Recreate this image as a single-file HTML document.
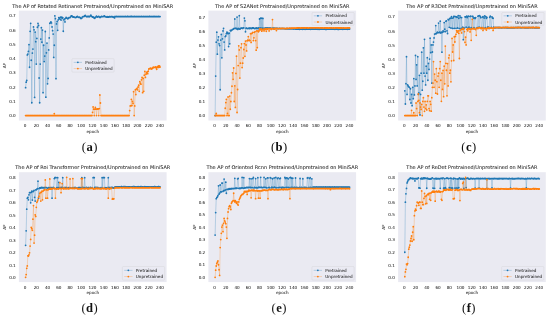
<!DOCTYPE html>
<html lang="en">
<head>
<meta charset="utf-8">
<title>AP of pretrained / unpretrained detectors on MiniSAR</title>
<style>
html,body{margin:0;padding:0;background:#fff;}
body{width:550px;height:317px;overflow:hidden;}
svg{display:block;}
svg text{font-family:"DejaVu Sans","Liberation Sans",sans-serif;fill:#2b2b2b;stroke:#2b2b2b;stroke-width:0.06px;}
svg text.cap{font-family:"Liberation Serif","DejaVu Serif",serif;fill:#111;stroke:none;letter-spacing:0.45px;}
</style>
</head>
<body>
<svg width="550" height="317" viewBox="0 0 550 317">
<g>
<rect width="550" height="317" fill="#ffffff"/>
<g>
<rect x="18.9" y="10.6" width="147.7" height="109.9" fill="#eaeaf2"/>
<text x="92.75" y="7.6" font-size="4.96" text-anchor="middle">The AP of Rotated Retinanet Pretrained/Unpretrained on MiniSAR</text>
<text x="15.7" y="117.35" font-size="4.14" text-anchor="end">0.0</text>
<text x="15.7" y="103.05" font-size="4.14" text-anchor="end">0.1</text>
<text x="15.7" y="88.75" font-size="4.14" text-anchor="end">0.2</text>
<text x="15.7" y="74.45" font-size="4.14" text-anchor="end">0.3</text>
<text x="15.7" y="60.15" font-size="4.14" text-anchor="end">0.4</text>
<text x="15.7" y="45.85" font-size="4.14" text-anchor="end">0.5</text>
<text x="15.7" y="31.55" font-size="4.14" text-anchor="end">0.6</text>
<text x="15.7" y="17.25" font-size="4.14" text-anchor="end">0.7</text>
<text x="25.05" y="126.9" font-size="4.14" text-anchor="middle">0</text>
<text x="36.3" y="126.9" font-size="4.14" text-anchor="middle">20</text>
<text x="47.55" y="126.9" font-size="4.14" text-anchor="middle">40</text>
<text x="58.8" y="126.9" font-size="4.14" text-anchor="middle">60</text>
<text x="70.05" y="126.9" font-size="4.14" text-anchor="middle">80</text>
<text x="81.3" y="126.9" font-size="4.14" text-anchor="middle">100</text>
<text x="92.55" y="126.9" font-size="4.14" text-anchor="middle">120</text>
<text x="103.8" y="126.9" font-size="4.14" text-anchor="middle">140</text>
<text x="115.05" y="126.9" font-size="4.14" text-anchor="middle">160</text>
<text x="126.3" y="126.9" font-size="4.14" text-anchor="middle">180</text>
<text x="137.55" y="126.9" font-size="4.14" text-anchor="middle">200</text>
<text x="148.8" y="126.9" font-size="4.14" text-anchor="middle">220</text>
<text x="160.05" y="126.9" font-size="4.14" text-anchor="middle">240</text>
<text x="92.75" y="132.55" font-size="4.14" text-anchor="middle">epoch</text>
<text transform="translate(6 65.55) rotate(-90)" font-size="4.14" text-anchor="middle">AP</text>
<path d="M25.61 87.71 L26.17 82.14 L26.74 80.42 L27.3 54.97 L27.86 54.11 L28.42 51.39 L28.99 44.53 L29.55 67.27 L30.11 31.37 L30.67 23.36 L31.24 60.26 L31.8 102.73 L32.36 53.11 L32.92 49.1 L33.49 26.94 L34.05 29.8 L34.61 97.44 L35.17 32.09 L35.74 41.67 L36.3 64.12 L36.86 38.38 L37.42 27.23 L37.99 23.36 L38.55 25.51 L39.11 77.99 L39.67 102.73 L40.24 64.12 L40.8 39.09 L41.36 27.66 L41.92 42.24 L42.49 30.09 L43.05 92.72 L43.61 45.24 L44.17 61.55 L44.74 56.11 L45.3 31.52 L45.86 97.15 L46.42 52.82 L46.99 43.1 L47.55 83.85 L48.11 78.42 L48.67 49.96 L49.24 37.95 L49.8 23.36 L50.36 22.65 L50.92 21.79 L51.49 22.94 L52.05 26.94 L52.61 30.66 L53.17 34.09 L53.74 57.4 L54.3 45.24 L54.86 15.79 L55.42 18.65 L55.99 78.71 L56.55 23.94 L57.11 21.51 L57.67 30.37 L58.24 19.79 L58.8 17.64 L59.36 18.36 L59.92 19.07 L60.49 17.22 L61.05 20.08 L61.61 17.07 L62.17 18.36 L62.74 17.64 L63.3 31.23 L63.86 19.79 L64.42 19.07 L64.99 21.93 L65.55 18.36 L66.11 17.43 L66.67 17.73 L67.24 18.29 L67.8 18.86 L68.36 18.37 L68.92 17.68 L69.49 17.71 L70.05 17.5 L70.61 16.97 L71.17 16.01 L71.74 15.95 L72.3 16.22 L72.86 17.1 L73.42 17.01 L73.99 16.93 L74.55 17.35 L75.11 17.29 L75.67 17.62 L76.24 17.37 L76.8 16.59 L77.36 16.52 L77.92 16.98 L78.49 17.16 L79.05 17.43 L79.61 17.24 L80.17 17.58 L80.74 18.43 L81.3 18.47 L81.86 17.9 L82.42 16.79 L82.99 16.6 L83.55 16.57 L84.11 16.44 L84.67 15.75 L85.24 15.52 L85.8 16.07 L86.36 16.47 L86.92 16.79 L87.49 16.54 L88.05 16.27 L88.61 16.61 L89.17 16.84 L89.74 16.43 L90.3 15.84 L90.86 15.23 L91.42 16.05 L91.99 16.62 L92.55 17.22 L93.11 16.85 L93.67 17.15 L94.24 18.18 L94.8 18.26 L95.36 17.34 L95.92 16.81 L96.49 16.21 L97.05 16.74 L97.61 17.06 L98.17 16.53 L98.74 16.28 L99.3 16.85 L99.86 17.43 L100.42 17.39 L100.99 16.63 L101.55 16.3 L102.11 16.55 L102.67 16.54 L103.24 16.51 L103.8 16.27 L104.36 15.81 L104.92 16.51 L105.49 16.72 L106.05 16.95 L106.61 17.02 L107.17 16.69 L107.74 17.14 L108.3 16.9 L108.86 17.05 L109.42 16.68 L109.99 16.74 L110.55 16.84 L111.11 16.58 L111.67 16.69 L112.24 16.94 L112.8 16.66 L113.36 17.18 L113.92 17.09 L114.49 17.93 L115.05 16.51 L115.61 16.55 L116.17 16.64 L116.74 16.49 L117.3 16.62 L117.86 16.61 L118.42 16.53 L118.99 16.6 L119.55 16.61 L120.11 16.65 L120.67 16.64 L121.24 16.56 L121.8 16.62 L122.36 16.56 L122.92 16.59 L123.49 16.58 L124.05 16.49 L124.61 16.58 L125.17 16.56 L125.74 16.51 L126.3 16.63 L126.86 16.63 L127.42 16.5 L127.99 16.52 L128.55 16.62 L129.11 16.63 L129.68 16.53 L130.24 16.5 L130.8 16.62 L131.36 16.5 L131.93 16.51 L132.49 16.55 L133.05 16.59 L133.61 16.64 L134.18 16.65 L134.74 16.49 L135.3 16.62 L135.86 16.54 L136.43 16.61 L136.99 16.52 L137.55 16.56 L138.11 16.61 L138.68 16.63 L139.24 16.53 L139.8 16.65 L140.36 16.62 L140.93 16.56 L141.49 16.51 L142.05 16.55 L142.61 16.61 L143.18 16.5 L143.74 16.62 L144.3 16.66 L144.86 16.61 L145.43 16.58 L145.99 16.65 L146.55 16.63 L147.11 16.6 L147.68 16.56 L148.24 16.64 L148.8 16.6 L149.36 16.51 L149.93 16.49 L150.49 16.55 L151.05 16.54 L151.61 16.56 L152.18 16.63 L152.74 16.65 L153.3 16.66 L153.86 16.5 L154.43 16.54 L154.99 16.49 L155.55 16.65 L156.11 16.55 L156.68 16.58 L157.24 16.53 L157.8 16.6 L158.36 16.49 L158.93 16.65 L159.49 16.56 L160.05 16.53" fill="none" stroke="#1f77b4" stroke-width="0.27" stroke-linejoin="round"/>
<path d="M25.61 87.71h0M26.17 82.14h0M26.74 80.42h0M27.3 54.97h0M27.86 54.11h0M28.42 51.39h0M28.99 44.53h0M29.55 67.27h0M30.11 31.37h0M30.67 23.36h0M31.24 60.26h0M31.8 102.73h0M32.36 53.11h0M32.92 49.1h0M33.49 26.94h0M34.05 29.8h0M34.61 97.44h0M35.17 32.09h0M35.74 41.67h0M36.3 64.12h0M36.86 38.38h0M37.42 27.23h0M37.99 23.36h0M38.55 25.51h0M39.11 77.99h0M39.67 102.73h0M40.24 64.12h0M40.8 39.09h0M41.36 27.66h0M41.92 42.24h0M42.49 30.09h0M43.05 92.72h0M43.61 45.24h0M44.17 61.55h0M44.74 56.11h0M45.3 31.52h0M45.86 97.15h0M46.42 52.82h0M46.99 43.1h0M47.55 83.85h0M48.11 78.42h0M48.67 49.96h0M49.24 37.95h0M49.8 23.36h0M50.36 22.65h0M50.92 21.79h0M51.49 22.94h0M52.05 26.94h0M52.61 30.66h0M53.17 34.09h0M53.74 57.4h0M54.3 45.24h0M54.86 15.79h0M55.42 18.65h0M55.99 78.71h0M56.55 23.94h0M57.11 21.51h0M57.67 30.37h0M58.24 19.79h0M58.8 17.64h0M59.36 18.36h0M59.92 19.07h0M60.49 17.22h0M61.05 20.08h0M61.61 17.07h0M62.17 18.36h0M62.74 17.64h0M63.3 31.23h0M63.86 19.79h0M64.42 19.07h0M64.99 21.93h0M65.55 18.36h0M66.11 17.43h0M66.67 17.73h0M67.24 18.29h0M67.8 18.86h0M68.36 18.37h0M68.92 17.68h0M69.49 17.71h0M70.05 17.5h0M70.61 16.97h0M71.17 16.01h0M71.74 15.95h0M72.3 16.22h0M72.86 17.1h0M73.42 17.01h0M73.99 16.93h0M74.55 17.35h0M75.11 17.29h0M75.67 17.62h0M76.24 17.37h0M76.8 16.59h0M77.36 16.52h0M77.92 16.98h0M78.49 17.16h0M79.05 17.43h0M79.61 17.24h0M80.17 17.58h0M80.74 18.43h0M81.3 18.47h0M81.86 17.9h0M82.42 16.79h0M82.99 16.6h0M83.55 16.57h0M84.11 16.44h0M84.67 15.75h0M85.24 15.52h0M85.8 16.07h0M86.36 16.47h0M86.92 16.79h0M87.49 16.54h0M88.05 16.27h0M88.61 16.61h0M89.17 16.84h0M89.74 16.43h0M90.3 15.84h0M90.86 15.23h0M91.42 16.05h0M91.99 16.62h0M92.55 17.22h0M93.11 16.85h0M93.67 17.15h0M94.24 18.18h0M94.8 18.26h0M95.36 17.34h0M95.92 16.81h0M96.49 16.21h0M97.05 16.74h0M97.61 17.06h0M98.17 16.53h0M98.74 16.28h0M99.3 16.85h0M99.86 17.43h0M100.42 17.39h0M100.99 16.63h0M101.55 16.3h0M102.11 16.55h0M102.67 16.54h0M103.24 16.51h0M103.8 16.27h0M104.36 15.81h0M104.92 16.51h0M105.49 16.72h0M106.05 16.95h0M106.61 17.02h0M107.17 16.69h0M107.74 17.14h0M108.3 16.9h0M108.86 17.05h0M109.42 16.68h0M109.99 16.74h0M110.55 16.84h0M111.11 16.58h0M111.67 16.69h0M112.24 16.94h0M112.8 16.66h0M113.36 17.18h0M113.92 17.09h0M114.49 17.93h0M115.05 16.51h0M115.61 16.55h0M116.17 16.64h0M116.74 16.49h0M117.3 16.62h0M117.86 16.61h0M118.42 16.53h0M118.99 16.6h0M119.55 16.61h0M120.11 16.65h0M120.67 16.64h0M121.24 16.56h0M121.8 16.62h0M122.36 16.56h0M122.92 16.59h0M123.49 16.58h0M124.05 16.49h0M124.61 16.58h0M125.17 16.56h0M125.74 16.51h0M126.3 16.63h0M126.86 16.63h0M127.42 16.5h0M127.99 16.52h0M128.55 16.62h0M129.11 16.63h0M129.68 16.53h0M130.24 16.5h0M130.8 16.62h0M131.36 16.5h0M131.93 16.51h0M132.49 16.55h0M133.05 16.59h0M133.61 16.64h0M134.18 16.65h0M134.74 16.49h0M135.3 16.62h0M135.86 16.54h0M136.43 16.61h0M136.99 16.52h0M137.55 16.56h0M138.11 16.61h0M138.68 16.63h0M139.24 16.53h0M139.8 16.65h0M140.36 16.62h0M140.93 16.56h0M141.49 16.51h0M142.05 16.55h0M142.61 16.61h0M143.18 16.5h0M143.74 16.62h0M144.3 16.66h0M144.86 16.61h0M145.43 16.58h0M145.99 16.65h0M146.55 16.63h0M147.11 16.6h0M147.68 16.56h0M148.24 16.64h0M148.8 16.6h0M149.36 16.51h0M149.93 16.49h0M150.49 16.55h0M151.05 16.54h0M151.61 16.56h0M152.18 16.63h0M152.74 16.65h0M153.3 16.66h0M153.86 16.5h0M154.43 16.54h0M154.99 16.49h0M155.55 16.65h0M156.11 16.55h0M156.68 16.58h0M157.24 16.53h0M157.8 16.6h0M158.36 16.49h0M158.93 16.65h0M159.49 16.56h0M160.05 16.53h0" fill="none" stroke="#1f77b4" stroke-width="1.8" stroke-linecap="round"/>
<path d="M25.61 115.6 L26.17 115.6 L26.74 115.6 L27.3 115.6 L27.86 115.6 L28.42 115.6 L28.99 115.6 L29.55 115.6 L30.11 115.6 L30.67 115.6 L31.24 115.6 L31.8 115.6 L32.36 115.6 L32.92 115.6 L33.49 115.6 L34.05 115.6 L34.61 115.6 L35.17 115.6 L35.74 115.6 L36.3 115.6 L36.86 115.6 L37.42 115.6 L37.99 115.6 L38.55 115.6 L39.11 115.6 L39.67 115.6 L40.24 115.6 L40.8 115.6 L41.36 115.6 L41.92 115.6 L42.49 115.6 L43.05 115.6 L43.61 115.6 L44.17 115.6 L44.74 115.6 L45.3 115.6 L45.86 115.6 L46.42 115.6 L46.99 115.6 L47.55 115.6 L48.11 115.6 L48.67 115.6 L49.24 115.6 L49.8 115.6 L50.36 115.6 L50.92 115.6 L51.49 115.6 L52.05 115.6 L52.61 115.6 L53.17 115.6 L53.74 115.6 L54.3 113.6 L54.86 115.6 L55.42 115.6 L55.99 115.6 L56.55 115.6 L57.11 115.6 L57.67 115.6 L58.24 115.6 L58.8 115.6 L59.36 115.6 L59.92 115.6 L60.49 115.6 L61.05 115.6 L61.61 115.6 L62.17 115.6 L62.74 115.6 L63.3 115.6 L63.86 115.6 L64.42 115.6 L64.99 115.6 L65.55 115.6 L66.11 115.6 L66.67 115.6 L67.24 115.6 L67.8 115.6 L68.36 115.6 L68.92 115.6 L69.49 115.6 L70.05 115.6 L70.61 115.6 L71.17 115.6 L71.74 115.6 L72.3 115.6 L72.86 115.6 L73.42 115.6 L73.99 115.6 L74.55 115.6 L75.11 115.6 L75.67 115.6 L76.24 115.6 L76.8 115.6 L77.36 115.6 L77.92 115.6 L78.49 115.6 L79.05 115.6 L79.61 115.6 L80.17 115.6 L80.74 115.6 L81.3 115.6 L81.86 115.6 L82.42 115.6 L82.99 115.6 L83.55 115.6 L84.11 115.6 L84.67 115.6 L85.24 115.6 L85.8 115.6 L86.36 115.6 L86.92 115.6 L87.49 115.6 L88.05 115.6 L88.61 115.6 L89.17 115.6 L89.74 115.6 L90.3 115.6 L90.86 115.6 L91.42 115.6 L91.99 115.6 L92.55 112.31 L93.11 106.88 L93.67 109.16 L94.24 115.6 L94.8 109.16 L95.36 107.31 L95.92 109.02 L96.49 115.6 L97.05 109.02 L97.61 109.02 L98.17 109.02 L98.74 115.6 L99.3 108.59 L99.86 95.01 L100.42 103.02 L100.99 115.6 L101.55 115.6 L102.11 115.6 L102.67 115.6 L103.24 115.6 L103.8 115.6 L104.36 115.6 L104.92 115.6 L105.49 115.6 L106.05 115.6 L106.61 115.6 L107.17 115.6 L107.74 115.6 L108.3 115.6 L108.86 115.6 L109.42 115.6 L109.99 115.6 L110.55 115.6 L111.11 115.6 L111.67 115.6 L112.24 115.6 L112.8 115.6 L113.36 115.6 L113.92 115.6 L114.49 115.6 L115.05 115.6 L115.61 115.6 L116.17 115.6 L116.74 115.6 L117.3 115.6 L117.86 115.6 L118.42 115.6 L118.99 115.6 L119.55 115.6 L120.11 115.6 L120.67 115.6 L121.24 115.6 L121.8 115.6 L122.36 115.6 L122.92 115.6 L123.49 115.6 L124.05 115.6 L124.61 115.6 L125.17 115.6 L125.74 115.6 L126.3 115.6 L126.86 115.6 L127.42 115.6 L127.99 115.6 L128.55 115.6 L129.11 115.6 L129.68 110.59 L130.24 105.88 L130.8 105.88 L131.36 99.3 L131.93 105.59 L132.49 101.3 L133.05 103.44 L133.61 91.72 L134.18 115.6 L134.74 105.88 L135.3 89.86 L135.86 94.58 L136.43 88.86 L136.99 88.43 L137.55 89.86 L138.11 87 L138.68 85.14 L139.24 91.29 L139.8 81.71 L140.36 83.42 L140.93 84.14 L141.49 79.85 L142.05 77.42 L142.61 92.72 L143.18 78.42 L143.74 91.29 L144.3 75.13 L144.86 71.41 L145.43 77.42 L145.99 74.13 L146.55 72.7 L147.11 71.84 L147.68 73.7 L148.24 71.27 L148.8 68.98 L149.36 68.74 L149.93 68.3 L150.49 68.15 L151.05 68.92 L151.61 69.02 L152.18 68.27 L152.74 68.31 L153.3 67.26 L153.86 67.34 L154.43 67.36 L154.99 67.31 L155.55 67 L156.11 67.76 L156.68 69.27 L157.24 67 L157.8 67.35 L158.36 65.94 L158.93 67.27 L159.49 65.83 L160.05 66.98" fill="none" stroke="#ff7f0e" stroke-width="0.27" stroke-linejoin="round"/>
<path d="M25.61 115.6h0M26.17 115.6h0M26.74 115.6h0M27.3 115.6h0M27.86 115.6h0M28.42 115.6h0M28.99 115.6h0M29.55 115.6h0M30.11 115.6h0M30.67 115.6h0M31.24 115.6h0M31.8 115.6h0M32.36 115.6h0M32.92 115.6h0M33.49 115.6h0M34.05 115.6h0M34.61 115.6h0M35.17 115.6h0M35.74 115.6h0M36.3 115.6h0M36.86 115.6h0M37.42 115.6h0M37.99 115.6h0M38.55 115.6h0M39.11 115.6h0M39.67 115.6h0M40.24 115.6h0M40.8 115.6h0M41.36 115.6h0M41.92 115.6h0M42.49 115.6h0M43.05 115.6h0M43.61 115.6h0M44.17 115.6h0M44.74 115.6h0M45.3 115.6h0M45.86 115.6h0M46.42 115.6h0M46.99 115.6h0M47.55 115.6h0M48.11 115.6h0M48.67 115.6h0M49.24 115.6h0M49.8 115.6h0M50.36 115.6h0M50.92 115.6h0M51.49 115.6h0M52.05 115.6h0M52.61 115.6h0M53.17 115.6h0M53.74 115.6h0M54.3 113.6h0M54.86 115.6h0M55.42 115.6h0M55.99 115.6h0M56.55 115.6h0M57.11 115.6h0M57.67 115.6h0M58.24 115.6h0M58.8 115.6h0M59.36 115.6h0M59.92 115.6h0M60.49 115.6h0M61.05 115.6h0M61.61 115.6h0M62.17 115.6h0M62.74 115.6h0M63.3 115.6h0M63.86 115.6h0M64.42 115.6h0M64.99 115.6h0M65.55 115.6h0M66.11 115.6h0M66.67 115.6h0M67.24 115.6h0M67.8 115.6h0M68.36 115.6h0M68.92 115.6h0M69.49 115.6h0M70.05 115.6h0M70.61 115.6h0M71.17 115.6h0M71.74 115.6h0M72.3 115.6h0M72.86 115.6h0M73.42 115.6h0M73.99 115.6h0M74.55 115.6h0M75.11 115.6h0M75.67 115.6h0M76.24 115.6h0M76.8 115.6h0M77.36 115.6h0M77.92 115.6h0M78.49 115.6h0M79.05 115.6h0M79.61 115.6h0M80.17 115.6h0M80.74 115.6h0M81.3 115.6h0M81.86 115.6h0M82.42 115.6h0M82.99 115.6h0M83.55 115.6h0M84.11 115.6h0M84.67 115.6h0M85.24 115.6h0M85.8 115.6h0M86.36 115.6h0M86.92 115.6h0M87.49 115.6h0M88.05 115.6h0M88.61 115.6h0M89.17 115.6h0M89.74 115.6h0M90.3 115.6h0M90.86 115.6h0M91.42 115.6h0M91.99 115.6h0M92.55 112.31h0M93.11 106.88h0M93.67 109.16h0M94.24 115.6h0M94.8 109.16h0M95.36 107.31h0M95.92 109.02h0M96.49 115.6h0M97.05 109.02h0M97.61 109.02h0M98.17 109.02h0M98.74 115.6h0M99.3 108.59h0M99.86 95.01h0M100.42 103.02h0M100.99 115.6h0M101.55 115.6h0M102.11 115.6h0M102.67 115.6h0M103.24 115.6h0M103.8 115.6h0M104.36 115.6h0M104.92 115.6h0M105.49 115.6h0M106.05 115.6h0M106.61 115.6h0M107.17 115.6h0M107.74 115.6h0M108.3 115.6h0M108.86 115.6h0M109.42 115.6h0M109.99 115.6h0M110.55 115.6h0M111.11 115.6h0M111.67 115.6h0M112.24 115.6h0M112.8 115.6h0M113.36 115.6h0M113.92 115.6h0M114.49 115.6h0M115.05 115.6h0M115.61 115.6h0M116.17 115.6h0M116.74 115.6h0M117.3 115.6h0M117.86 115.6h0M118.42 115.6h0M118.99 115.6h0M119.55 115.6h0M120.11 115.6h0M120.67 115.6h0M121.24 115.6h0M121.8 115.6h0M122.36 115.6h0M122.92 115.6h0M123.49 115.6h0M124.05 115.6h0M124.61 115.6h0M125.17 115.6h0M125.74 115.6h0M126.3 115.6h0M126.86 115.6h0M127.42 115.6h0M127.99 115.6h0M128.55 115.6h0M129.11 115.6h0M129.68 110.59h0M130.24 105.88h0M130.8 105.88h0M131.36 99.3h0M131.93 105.59h0M132.49 101.3h0M133.05 103.44h0M133.61 91.72h0M134.18 115.6h0M134.74 105.88h0M135.3 89.86h0M135.86 94.58h0M136.43 88.86h0M136.99 88.43h0M137.55 89.86h0M138.11 87h0M138.68 85.14h0M139.24 91.29h0M139.8 81.71h0M140.36 83.42h0M140.93 84.14h0M141.49 79.85h0M142.05 77.42h0M142.61 92.72h0M143.18 78.42h0M143.74 91.29h0M144.3 75.13h0M144.86 71.41h0M145.43 77.42h0M145.99 74.13h0M146.55 72.7h0M147.11 71.84h0M147.68 73.7h0M148.24 71.27h0M148.8 68.98h0M149.36 68.74h0M149.93 68.3h0M150.49 68.15h0M151.05 68.92h0M151.61 69.02h0M152.18 68.27h0M152.74 68.31h0M153.3 67.26h0M153.86 67.34h0M154.43 67.36h0M154.99 67.31h0M155.55 67h0M156.11 67.76h0M156.68 69.27h0M157.24 67h0M157.8 67.35h0M158.36 65.94h0M158.93 67.27h0M159.49 65.83h0M160.05 66.98h0" fill="none" stroke="#ff7f0e" stroke-width="1.8" stroke-linecap="round"/>
<rect x="71.9" y="58.6" width="42.2" height="13.5" rx="0.9" fill="#eaeaf2" fill-opacity="0.8" stroke="#cccccc" stroke-width="0.3"/>
<path d="M73.7 62.35h8.3" stroke="#1f77b4" stroke-width="0.27" fill="none"/>
<circle cx="77.85" cy="62.35" r="0.9" fill="#1f77b4"/>
<text x="85.35" y="63.85" font-size="4.14">Pretrained</text>
<path d="M73.7 68.55h8.3" stroke="#ff7f0e" stroke-width="0.27" fill="none"/>
<circle cx="77.85" cy="68.55" r="0.9" fill="#ff7f0e"/>
<text x="85.35" y="70.05" font-size="4.14">Unpretrained</text>
</g>
<text class="cap" x="89.8" y="150.5" font-size="12.6" text-anchor="middle">(<tspan font-weight="bold">a</tspan>)</text>
<g>
<rect x="208.4" y="10.6" width="147.7" height="109.9" fill="#eaeaf2"/>
<text x="282.25" y="7.6" font-size="4.96" text-anchor="middle">The AP of S2ANet Pretrained/Unpretrained on MiniSAR</text>
<text x="205.2" y="117.35" font-size="4.14" text-anchor="end">0.0</text>
<text x="205.2" y="103.23" font-size="4.14" text-anchor="end">0.1</text>
<text x="205.2" y="89.11" font-size="4.14" text-anchor="end">0.2</text>
<text x="205.2" y="74.99" font-size="4.14" text-anchor="end">0.3</text>
<text x="205.2" y="60.87" font-size="4.14" text-anchor="end">0.4</text>
<text x="205.2" y="46.75" font-size="4.14" text-anchor="end">0.5</text>
<text x="205.2" y="32.63" font-size="4.14" text-anchor="end">0.6</text>
<text x="205.2" y="18.51" font-size="4.14" text-anchor="end">0.7</text>
<text x="214.55" y="126.9" font-size="4.14" text-anchor="middle">0</text>
<text x="225.8" y="126.9" font-size="4.14" text-anchor="middle">20</text>
<text x="237.05" y="126.9" font-size="4.14" text-anchor="middle">40</text>
<text x="248.3" y="126.9" font-size="4.14" text-anchor="middle">60</text>
<text x="259.55" y="126.9" font-size="4.14" text-anchor="middle">80</text>
<text x="270.8" y="126.9" font-size="4.14" text-anchor="middle">100</text>
<text x="282.05" y="126.9" font-size="4.14" text-anchor="middle">120</text>
<text x="293.3" y="126.9" font-size="4.14" text-anchor="middle">140</text>
<text x="304.55" y="126.9" font-size="4.14" text-anchor="middle">160</text>
<text x="315.8" y="126.9" font-size="4.14" text-anchor="middle">180</text>
<text x="327.05" y="126.9" font-size="4.14" text-anchor="middle">200</text>
<text x="338.3" y="126.9" font-size="4.14" text-anchor="middle">220</text>
<text x="349.55" y="126.9" font-size="4.14" text-anchor="middle">240</text>
<text x="282.25" y="132.55" font-size="4.14" text-anchor="middle">epoch</text>
<text transform="translate(195.5 65.55) rotate(-90)" font-size="4.14" text-anchor="middle">AP</text>
<path d="M215.11 115.6 L215.68 76.06 L216.24 42.18 L216.8 32.15 L217.36 54.18 L217.93 40.06 L218.49 36.81 L219.05 43.87 L219.61 45.56 L220.18 89.76 L220.74 40.06 L221.3 34.41 L221.86 57.85 L222.43 38.79 L222.99 30.88 L223.55 28.34 L224.11 42.03 L224.68 49.94 L225.24 36.53 L225.8 35.96 L226.36 33.7 L226.93 32.15 L227.49 32.29 L228.05 33.7 L228.61 46.55 L229.18 33.14 L229.74 43.87 L230.3 30.32 L230.86 30.88 L231.43 30.17 L231.99 29.89 L232.55 29.47 L233.11 29.19 L233.68 28.76 L234.24 28.34 L234.8 19.02 L235.36 28.34 L235.93 28.06 L236.49 28.76 L237.05 17.04 L237.61 29.47 L238.18 28.34 L238.74 28.76 L239.3 15.63 L239.86 29.19 L240.43 28.48 L240.99 28.04 L241.55 28.08 L242.11 28.21 L242.68 28.44 L243.24 27.95 L243.8 27.94 L244.36 18.03 L244.93 20.85 L245.49 31.73 L246.05 28.19 L246.61 28.19 L247.18 28.42 L247.74 28.62 L248.3 28.31 L248.86 28.12 L249.43 28.56 L249.99 27.95 L250.55 28.42 L251.11 28.42 L251.68 28.58 L252.24 27.78 L252.8 27.99 L253.36 27.88 L253.93 28.1 L254.49 28.59 L255.05 28.34 L255.61 28.2 L256.18 28.52 L256.74 27.81 L257.3 28.31 L257.86 28.49 L258.43 27.93 L258.99 28.52 L259.55 19.02 L260.11 27.83 L260.68 18.17 L261.24 28.24 L261.8 18.03 L262.36 28.15 L262.93 18.45 L263.49 28.33 L264.05 28.21 L264.61 28.46 L265.18 28.21 L265.74 27.95 L266.3 28.18 L266.86 28.01 L267.43 28.23 L267.99 27.99 L268.55 28.03 L269.11 28.09 L269.68 28.11 L270.24 28.19 L270.8 28.15 L271.36 28.38 L271.93 28.28 L272.49 28.17 L273.05 28.4 L273.61 28.18 L274.18 28.21 L274.74 28.39 L275.3 28.42 L275.86 28.41 L276.43 28.45 L276.99 28.26 L277.55 28.48 L278.11 28.62 L278.68 28.62 L279.24 28.42 L279.8 28.35 L280.36 28.53 L280.93 28.55 L281.49 28.55 L282.05 28.5 L282.61 28.7 L283.18 28.58 L283.74 28.62 L284.3 28.61 L284.86 28.78 L285.43 28.8 L285.99 28.76 L286.55 28.58 L287.11 28.8 L287.68 28.73 L288.24 28.85 L288.8 28.93 L289.36 28.96 L289.93 28.73 L290.49 28.76 L291.05 28.91 L291.61 28.82 L292.18 28.84 L292.74 28.79 L293.3 28.78 L293.86 28.99 L294.43 28.81 L294.99 28.84 L295.55 28.98 L296.11 28.9 L296.68 29.05 L297.24 29.1 L297.8 29.17 L298.36 28.97 L298.93 29.21 L299.49 29.24 L300.05 29.03 L300.61 29.04 L301.18 29.12 L301.74 29.02 L302.3 29.24 L302.86 29.18 L303.43 29.17 L303.99 29.14 L304.55 29.21 L305.11 29.24 L305.68 29.16 L306.24 29 L306.8 28.98 L307.36 29.05 L307.93 29.12 L308.49 29.18 L309.05 28.99 L309.61 29.11 L310.18 29.05 L310.74 29.25 L311.3 29.2 L311.86 29.02 L312.43 29.03 L312.99 29.01 L313.55 29.09 L314.11 29.14 L314.68 29.09 L315.24 29.02 L315.8 29.17 L316.36 29.11 L316.93 29.18 L317.49 29.04 L318.05 29.25 L318.61 29.06 L319.18 28.99 L319.74 29.25 L320.3 29.09 L320.86 29.07 L321.43 29.02 L321.99 29.09 L322.55 29.18 L323.11 29.14 L323.68 28.99 L324.24 29 L324.8 29.22 L325.36 29.23 L325.93 29.23 L326.49 29.25 L327.05 29.13 L327.61 29.22 L328.18 29.01 L328.74 29.07 L329.3 29.22 L329.86 29.1 L330.43 29.16 L330.99 29.12 L331.55 29.19 L332.11 29.21 L332.68 29.2 L333.24 29.15 L333.8 29.06 L334.36 29.1 L334.93 29.24 L335.49 29.06 L336.05 29.01 L336.61 29.04 L337.18 29.03 L337.74 29.25 L338.3 29.13 L338.86 29.24 L339.43 29.04 L339.99 29.21 L340.55 29.06 L341.11 29.18 L341.68 29.06 L342.24 29.17 L342.8 29.24 L343.36 29.15 L343.93 29.17 L344.49 29 L345.05 29.17 L345.61 29.11 L346.18 29.1 L346.74 28.99 L347.3 29.23 L347.86 29.09 L348.43 29.11 L348.99 29.05 L349.55 28.98" fill="none" stroke="#1f77b4" stroke-width="0.27" stroke-linejoin="round"/>
<path d="M215.11 115.6h0M215.68 76.06h0M216.24 42.18h0M216.8 32.15h0M217.36 54.18h0M217.93 40.06h0M218.49 36.81h0M219.05 43.87h0M219.61 45.56h0M220.18 89.76h0M220.74 40.06h0M221.3 34.41h0M221.86 57.85h0M222.43 38.79h0M222.99 30.88h0M223.55 28.34h0M224.11 42.03h0M224.68 49.94h0M225.24 36.53h0M225.8 35.96h0M226.36 33.7h0M226.93 32.15h0M227.49 32.29h0M228.05 33.7h0M228.61 46.55h0M229.18 33.14h0M229.74 43.87h0M230.3 30.32h0M230.86 30.88h0M231.43 30.17h0M231.99 29.89h0M232.55 29.47h0M233.11 29.19h0M233.68 28.76h0M234.24 28.34h0M234.8 19.02h0M235.36 28.34h0M235.93 28.06h0M236.49 28.76h0M237.05 17.04h0M237.61 29.47h0M238.18 28.34h0M238.74 28.76h0M239.3 15.63h0M239.86 29.19h0M240.43 28.48h0M240.99 28.04h0M241.55 28.08h0M242.11 28.21h0M242.68 28.44h0M243.24 27.95h0M243.8 27.94h0M244.36 18.03h0M244.93 20.85h0M245.49 31.73h0M246.05 28.19h0M246.61 28.19h0M247.18 28.42h0M247.74 28.62h0M248.3 28.31h0M248.86 28.12h0M249.43 28.56h0M249.99 27.95h0M250.55 28.42h0M251.11 28.42h0M251.68 28.58h0M252.24 27.78h0M252.8 27.99h0M253.36 27.88h0M253.93 28.1h0M254.49 28.59h0M255.05 28.34h0M255.61 28.2h0M256.18 28.52h0M256.74 27.81h0M257.3 28.31h0M257.86 28.49h0M258.43 27.93h0M258.99 28.52h0M259.55 19.02h0M260.11 27.83h0M260.68 18.17h0M261.24 28.24h0M261.8 18.03h0M262.36 28.15h0M262.93 18.45h0M263.49 28.33h0M264.05 28.21h0M264.61 28.46h0M265.18 28.21h0M265.74 27.95h0M266.3 28.18h0M266.86 28.01h0M267.43 28.23h0M267.99 27.99h0M268.55 28.03h0M269.11 28.09h0M269.68 28.11h0M270.24 28.19h0M270.8 28.15h0M271.36 28.38h0M271.93 28.28h0M272.49 28.17h0M273.05 28.4h0M273.61 28.18h0M274.18 28.21h0M274.74 28.39h0M275.3 28.42h0M275.86 28.41h0M276.43 28.45h0M276.99 28.26h0M277.55 28.48h0M278.11 28.62h0M278.68 28.62h0M279.24 28.42h0M279.8 28.35h0M280.36 28.53h0M280.93 28.55h0M281.49 28.55h0M282.05 28.5h0M282.61 28.7h0M283.18 28.58h0M283.74 28.62h0M284.3 28.61h0M284.86 28.78h0M285.43 28.8h0M285.99 28.76h0M286.55 28.58h0M287.11 28.8h0M287.68 28.73h0M288.24 28.85h0M288.8 28.93h0M289.36 28.96h0M289.93 28.73h0M290.49 28.76h0M291.05 28.91h0M291.61 28.82h0M292.18 28.84h0M292.74 28.79h0M293.3 28.78h0M293.86 28.99h0M294.43 28.81h0M294.99 28.84h0M295.55 28.98h0M296.11 28.9h0M296.68 29.05h0M297.24 29.1h0M297.8 29.17h0M298.36 28.97h0M298.93 29.21h0M299.49 29.24h0M300.05 29.03h0M300.61 29.04h0M301.18 29.12h0M301.74 29.02h0M302.3 29.24h0M302.86 29.18h0M303.43 29.17h0M303.99 29.14h0M304.55 29.21h0M305.11 29.24h0M305.68 29.16h0M306.24 29h0M306.8 28.98h0M307.36 29.05h0M307.93 29.12h0M308.49 29.18h0M309.05 28.99h0M309.61 29.11h0M310.18 29.05h0M310.74 29.25h0M311.3 29.2h0M311.86 29.02h0M312.43 29.03h0M312.99 29.01h0M313.55 29.09h0M314.11 29.14h0M314.68 29.09h0M315.24 29.02h0M315.8 29.17h0M316.36 29.11h0M316.93 29.18h0M317.49 29.04h0M318.05 29.25h0M318.61 29.06h0M319.18 28.99h0M319.74 29.25h0M320.3 29.09h0M320.86 29.07h0M321.43 29.02h0M321.99 29.09h0M322.55 29.18h0M323.11 29.14h0M323.68 28.99h0M324.24 29h0M324.8 29.22h0M325.36 29.23h0M325.93 29.23h0M326.49 29.25h0M327.05 29.13h0M327.61 29.22h0M328.18 29.01h0M328.74 29.07h0M329.3 29.22h0M329.86 29.1h0M330.43 29.16h0M330.99 29.12h0M331.55 29.19h0M332.11 29.21h0M332.68 29.2h0M333.24 29.15h0M333.8 29.06h0M334.36 29.1h0M334.93 29.24h0M335.49 29.06h0M336.05 29.01h0M336.61 29.04h0M337.18 29.03h0M337.74 29.25h0M338.3 29.13h0M338.86 29.24h0M339.43 29.04h0M339.99 29.21h0M340.55 29.06h0M341.11 29.18h0M341.68 29.06h0M342.24 29.17h0M342.8 29.24h0M343.36 29.15h0M343.93 29.17h0M344.49 29h0M345.05 29.17h0M345.61 29.11h0M346.18 29.1h0M346.74 28.99h0M347.3 29.23h0M347.86 29.09h0M348.43 29.11h0M348.99 29.05h0M349.55 28.98h0" fill="none" stroke="#1f77b4" stroke-width="1.8" stroke-linecap="round"/>
<path d="M215.11 115.6 L215.68 115.6 L216.24 113.48 L216.8 115.6 L217.36 115.6 L217.93 115.6 L218.49 115.6 L219.05 115.6 L219.61 115.6 L220.18 115.6 L220.74 115.6 L221.3 115.6 L221.86 115.6 L222.43 115.6 L222.99 115.6 L223.55 115.6 L224.11 115.6 L224.68 115.6 L225.24 108.26 L225.8 102.61 L226.36 99.36 L226.93 115.6 L227.49 113.48 L228.05 96.96 L228.61 115.6 L229.18 115.6 L229.74 96.11 L230.3 109.25 L230.86 101.48 L231.43 92.73 L231.99 86.23 L232.55 72.82 L233.11 79.31 L233.68 68.02 L234.24 101.48 L234.8 85.81 L235.36 107.41 L235.93 73.38 L236.49 56.15 L237.05 112.49 L237.61 89.48 L238.18 65.62 L238.74 45.85 L239.3 49.94 L239.86 78.04 L240.43 63.21 L240.99 47.68 L241.55 43.87 L242.11 67.59 L242.68 63.21 L243.24 57.99 L243.8 49.52 L244.36 43.59 L244.93 56.3 L245.49 41.05 L246.05 45 L246.61 50.93 L247.18 40.76 L247.74 40.06 L248.3 36.53 L248.86 40.62 L249.43 40.06 L249.99 40.62 L250.55 33.7 L251.11 42.46 L251.68 33.56 L252.24 33 L252.8 32.29 L253.36 40.62 L253.93 37.8 L254.49 32.29 L255.05 31.59 L255.61 40.62 L256.18 50.22 L256.74 30.88 L257.3 47.68 L257.86 30.88 L258.43 31.73 L258.99 30.88 L259.55 28.87 L260.11 29.66 L260.68 29.76 L261.24 28.78 L261.8 31.16 L262.36 29.55 L262.93 29.59 L263.49 29.05 L264.05 30.88 L264.61 29.31 L265.18 28.76 L265.74 29.39 L266.3 31.3 L266.86 28.63 L267.43 29.25 L267.99 28.95 L268.55 28.61 L269.11 30.88 L269.68 28.81 L270.24 28.56 L270.8 28.75 L271.36 29.39 L271.93 28.55 L272.49 19.58 L273.05 28.8 L273.61 29.06 L274.18 29.16 L274.74 28.49 L275.3 28.73 L275.86 28.36 L276.43 30.6 L276.99 28.49 L277.55 28.54 L278.11 28.65 L278.68 28.58 L279.24 28.59 L279.8 28.69 L280.36 28.44 L280.93 28.64 L281.49 28.46 L282.05 28.38 L282.61 28.46 L283.18 28.61 L283.74 28.36 L284.3 28.4 L284.86 28.54 L285.43 28.57 L285.99 28.38 L286.55 28.53 L287.11 28.21 L287.68 28.33 L288.24 28.31 L288.8 28.33 L289.36 28.22 L289.93 28.12 L290.49 28.3 L291.05 28.26 L291.61 28.17 L292.18 28.25 L292.74 28.13 L293.3 28.12 L293.86 28.14 L294.43 28.04 L294.99 28.07 L295.55 28.2 L296.11 27.87 L296.68 28.07 L297.24 28.02 L297.8 28.01 L298.36 27.81 L298.93 27.79 L299.49 27.91 L300.05 27.94 L300.61 28.03 L301.18 27.8 L301.74 28.01 L302.3 27.9 L302.86 27.96 L303.43 27.96 L303.99 27.96 L304.55 28 L305.11 28.05 L305.68 27.9 L306.24 27.83 L306.8 27.87 L307.36 28 L307.93 27.86 L308.49 28.04 L309.05 27.94 L309.61 27.82 L310.18 27.8 L310.74 27.93 L311.3 27.82 L311.86 27.92 L312.43 27.91 L312.99 27.89 L313.55 27.78 L314.11 27.85 L314.68 27.92 L315.24 27.85 L315.8 27.87 L316.36 27.96 L316.93 27.83 L317.49 27.82 L318.05 27.88 L318.61 27.79 L319.18 28.05 L319.74 27.91 L320.3 27.88 L320.86 27.96 L321.43 28.01 L321.99 27.86 L322.55 27.93 L323.11 27.98 L323.68 28.04 L324.24 27.78 L324.8 27.96 L325.36 28.02 L325.93 27.99 L326.49 27.98 L327.05 27.81 L327.61 28 L328.18 27.98 L328.74 28.03 L329.3 27.92 L329.86 28 L330.43 27.96 L330.99 27.85 L331.55 27.79 L332.11 27.82 L332.68 28.05 L333.24 27.95 L333.8 27.82 L334.36 28.05 L334.93 28 L335.49 27.92 L336.05 27.95 L336.61 27.84 L337.18 27.85 L337.74 27.92 L338.3 27.99 L338.86 27.99 L339.43 27.98 L339.99 28.04 L340.55 27.87 L341.11 28.01 L341.68 27.8 L342.24 27.87 L342.8 28.04 L343.36 27.92 L343.93 27.89 L344.49 28.04 L345.05 27.92 L345.61 28.05 L346.18 27.84 L346.74 28.05 L347.3 27.88 L347.86 27.78 L348.43 27.82 L348.99 27.99 L349.55 27.91" fill="none" stroke="#ff7f0e" stroke-width="0.27" stroke-linejoin="round"/>
<path d="M215.11 115.6h0M215.68 115.6h0M216.24 113.48h0M216.8 115.6h0M217.36 115.6h0M217.93 115.6h0M218.49 115.6h0M219.05 115.6h0M219.61 115.6h0M220.18 115.6h0M220.74 115.6h0M221.3 115.6h0M221.86 115.6h0M222.43 115.6h0M222.99 115.6h0M223.55 115.6h0M224.11 115.6h0M224.68 115.6h0M225.24 108.26h0M225.8 102.61h0M226.36 99.36h0M226.93 115.6h0M227.49 113.48h0M228.05 96.96h0M228.61 115.6h0M229.18 115.6h0M229.74 96.11h0M230.3 109.25h0M230.86 101.48h0M231.43 92.73h0M231.99 86.23h0M232.55 72.82h0M233.11 79.31h0M233.68 68.02h0M234.24 101.48h0M234.8 85.81h0M235.36 107.41h0M235.93 73.38h0M236.49 56.15h0M237.05 112.49h0M237.61 89.48h0M238.18 65.62h0M238.74 45.85h0M239.3 49.94h0M239.86 78.04h0M240.43 63.21h0M240.99 47.68h0M241.55 43.87h0M242.11 67.59h0M242.68 63.21h0M243.24 57.99h0M243.8 49.52h0M244.36 43.59h0M244.93 56.3h0M245.49 41.05h0M246.05 45h0M246.61 50.93h0M247.18 40.76h0M247.74 40.06h0M248.3 36.53h0M248.86 40.62h0M249.43 40.06h0M249.99 40.62h0M250.55 33.7h0M251.11 42.46h0M251.68 33.56h0M252.24 33h0M252.8 32.29h0M253.36 40.62h0M253.93 37.8h0M254.49 32.29h0M255.05 31.59h0M255.61 40.62h0M256.18 50.22h0M256.74 30.88h0M257.3 47.68h0M257.86 30.88h0M258.43 31.73h0M258.99 30.88h0M259.55 28.87h0M260.11 29.66h0M260.68 29.76h0M261.24 28.78h0M261.8 31.16h0M262.36 29.55h0M262.93 29.59h0M263.49 29.05h0M264.05 30.88h0M264.61 29.31h0M265.18 28.76h0M265.74 29.39h0M266.3 31.3h0M266.86 28.63h0M267.43 29.25h0M267.99 28.95h0M268.55 28.61h0M269.11 30.88h0M269.68 28.81h0M270.24 28.56h0M270.8 28.75h0M271.36 29.39h0M271.93 28.55h0M272.49 19.58h0M273.05 28.8h0M273.61 29.06h0M274.18 29.16h0M274.74 28.49h0M275.3 28.73h0M275.86 28.36h0M276.43 30.6h0M276.99 28.49h0M277.55 28.54h0M278.11 28.65h0M278.68 28.58h0M279.24 28.59h0M279.8 28.69h0M280.36 28.44h0M280.93 28.64h0M281.49 28.46h0M282.05 28.38h0M282.61 28.46h0M283.18 28.61h0M283.74 28.36h0M284.3 28.4h0M284.86 28.54h0M285.43 28.57h0M285.99 28.38h0M286.55 28.53h0M287.11 28.21h0M287.68 28.33h0M288.24 28.31h0M288.8 28.33h0M289.36 28.22h0M289.93 28.12h0M290.49 28.3h0M291.05 28.26h0M291.61 28.17h0M292.18 28.25h0M292.74 28.13h0M293.3 28.12h0M293.86 28.14h0M294.43 28.04h0M294.99 28.07h0M295.55 28.2h0M296.11 27.87h0M296.68 28.07h0M297.24 28.02h0M297.8 28.01h0M298.36 27.81h0M298.93 27.79h0M299.49 27.91h0M300.05 27.94h0M300.61 28.03h0M301.18 27.8h0M301.74 28.01h0M302.3 27.9h0M302.86 27.96h0M303.43 27.96h0M303.99 27.96h0M304.55 28h0M305.11 28.05h0M305.68 27.9h0M306.24 27.83h0M306.8 27.87h0M307.36 28h0M307.93 27.86h0M308.49 28.04h0M309.05 27.94h0M309.61 27.82h0M310.18 27.8h0M310.74 27.93h0M311.3 27.82h0M311.86 27.92h0M312.43 27.91h0M312.99 27.89h0M313.55 27.78h0M314.11 27.85h0M314.68 27.92h0M315.24 27.85h0M315.8 27.87h0M316.36 27.96h0M316.93 27.83h0M317.49 27.82h0M318.05 27.88h0M318.61 27.79h0M319.18 28.05h0M319.74 27.91h0M320.3 27.88h0M320.86 27.96h0M321.43 28.01h0M321.99 27.86h0M322.55 27.93h0M323.11 27.98h0M323.68 28.04h0M324.24 27.78h0M324.8 27.96h0M325.36 28.02h0M325.93 27.99h0M326.49 27.98h0M327.05 27.81h0M327.61 28h0M328.18 27.98h0M328.74 28.03h0M329.3 27.92h0M329.86 28h0M330.43 27.96h0M330.99 27.85h0M331.55 27.79h0M332.11 27.82h0M332.68 28.05h0M333.24 27.95h0M333.8 27.82h0M334.36 28.05h0M334.93 28h0M335.49 27.92h0M336.05 27.95h0M336.61 27.84h0M337.18 27.85h0M337.74 27.92h0M338.3 27.99h0M338.86 27.99h0M339.43 27.98h0M339.99 28.04h0M340.55 27.87h0M341.11 28.01h0M341.68 27.8h0M342.24 27.87h0M342.8 28.04h0M343.36 27.92h0M343.93 27.89h0M344.49 28.04h0M345.05 27.92h0M345.61 28.05h0M346.18 27.84h0M346.74 28.05h0M347.3 27.88h0M347.86 27.78h0M348.43 27.82h0M348.99 27.99h0M349.55 27.91h0" fill="none" stroke="#ff7f0e" stroke-width="1.8" stroke-linecap="round"/>
<rect x="312" y="12.5" width="42.2" height="12.8" rx="0.9" fill="#eaeaf2" fill-opacity="0.8" stroke="#cccccc" stroke-width="0.3"/>
<path d="M313.8 15.8h8.3" stroke="#1f77b4" stroke-width="0.27" fill="none"/>
<circle cx="317.95" cy="15.8" r="0.9" fill="#1f77b4"/>
<text x="325.45" y="17.3" font-size="4.14">Pretrained</text>
<path d="M313.8 22h8.3" stroke="#ff7f0e" stroke-width="0.27" fill="none"/>
<circle cx="317.95" cy="22" r="0.9" fill="#ff7f0e"/>
<text x="325.45" y="23.5" font-size="4.14">Unpretrained</text>
</g>
<text class="cap" x="279.3" y="150.5" font-size="12.6" text-anchor="middle">(<tspan font-weight="bold">b</tspan>)</text>
<g>
<rect x="398.1" y="10.6" width="147.7" height="109.9" fill="#eaeaf2"/>
<text x="471.95" y="7.6" font-size="4.96" text-anchor="middle">The AP of R3Det Pretrained/Unpretrained on MiniSAR</text>
<text x="394.9" y="117.35" font-size="4.14" text-anchor="end">0.0</text>
<text x="394.9" y="103.22" font-size="4.14" text-anchor="end">0.1</text>
<text x="394.9" y="89.09" font-size="4.14" text-anchor="end">0.2</text>
<text x="394.9" y="74.96" font-size="4.14" text-anchor="end">0.3</text>
<text x="394.9" y="60.83" font-size="4.14" text-anchor="end">0.4</text>
<text x="394.9" y="46.7" font-size="4.14" text-anchor="end">0.5</text>
<text x="394.9" y="32.57" font-size="4.14" text-anchor="end">0.6</text>
<text x="394.9" y="18.44" font-size="4.14" text-anchor="end">0.7</text>
<text x="404.25" y="126.9" font-size="4.14" text-anchor="middle">0</text>
<text x="415.5" y="126.9" font-size="4.14" text-anchor="middle">20</text>
<text x="426.75" y="126.9" font-size="4.14" text-anchor="middle">40</text>
<text x="438" y="126.9" font-size="4.14" text-anchor="middle">60</text>
<text x="449.25" y="126.9" font-size="4.14" text-anchor="middle">80</text>
<text x="460.5" y="126.9" font-size="4.14" text-anchor="middle">100</text>
<text x="471.75" y="126.9" font-size="4.14" text-anchor="middle">120</text>
<text x="483" y="126.9" font-size="4.14" text-anchor="middle">140</text>
<text x="494.25" y="126.9" font-size="4.14" text-anchor="middle">160</text>
<text x="505.5" y="126.9" font-size="4.14" text-anchor="middle">180</text>
<text x="516.75" y="126.9" font-size="4.14" text-anchor="middle">200</text>
<text x="528" y="126.9" font-size="4.14" text-anchor="middle">220</text>
<text x="539.25" y="126.9" font-size="4.14" text-anchor="middle">240</text>
<text x="471.95" y="132.55" font-size="4.14" text-anchor="middle">epoch</text>
<text transform="translate(385.2 65.55) rotate(-90)" font-size="4.14" text-anchor="middle">AP</text>
<path d="M404.81 90.87 L405.38 104.01 L405.94 83.67 L406.5 56.68 L407.06 94.41 L407.62 84.8 L408.19 85.93 L408.75 86.77 L409.31 87.34 L409.88 99.49 L410.44 88.75 L411 103.02 L411.56 94.41 L412.12 105.71 L412.69 87.34 L413.25 98.64 L413.81 78.58 L414.38 94.97 L414.94 85.93 L415.5 55.41 L416.06 79.43 L416.62 64.87 L417.19 85.93 L417.75 56.68 L418.31 94.41 L418.88 92.99 L419.44 75.33 L420 114.89 L420.56 94.41 L421.12 73.21 L421.69 52.16 L422.25 90.17 L422.81 81.26 L423.38 47.78 L423.94 73.21 L424.5 39.3 L425.06 76.04 L425.62 84.94 L426.19 66.14 L426.75 73.21 L427.31 57.67 L427.88 80.27 L428.44 63.32 L429 69.39 L429.56 59.08 L430.12 38.17 L430.69 52.72 L431.25 44.95 L431.81 83.1 L432.38 52.01 L432.94 44.95 L433.5 42.12 L434.06 37.88 L434.62 34.07 L435.19 33.93 L435.75 25.59 L436.31 33.65 L436.88 32.94 L437.44 32.23 L438 32.66 L438.56 23.05 L439.12 32.66 L439.69 32.23 L440.25 21.21 L440.81 33.08 L441.38 32.23 L441.94 52.16 L442.5 32.23 L443.06 30.82 L443.62 31.53 L444.19 22.62 L444.75 29.27 L445.31 31.67 L445.88 21.21 L446.44 20.79 L447 30.82 L447.56 33.5 L448.12 19.37 L448.69 19.8 L449.25 27.29 L449.81 18.49 L450.38 18.21 L450.94 28 L451.5 16.59 L452.06 18.13 L452.62 28.4 L453.19 17.87 L453.75 16.39 L454.31 28.35 L454.88 16.43 L455.44 16.66 L456 28.37 L456.56 17.01 L457.12 17.26 L457.69 27.98 L458.25 15.71 L458.81 18.26 L459.38 28.53 L459.94 15.87 L460.5 17.39 L461.06 28.28 L461.62 17.59 L462.19 28.04 L462.75 27.21 L463.31 39.72 L463.88 28.26 L464.44 28.25 L465 16.87 L465.56 16.98 L466.12 27.21 L466.69 16.16 L467.25 17.52 L467.81 28.27 L468.38 16.16 L468.94 27.16 L469.5 28.52 L470.06 16.45 L470.62 16.07 L471.19 27.64 L471.75 28.25 L472.31 16.28 L472.88 16.46 L473.44 17.98 L474 27.65 L474.56 17.91 L475.12 18.41 L475.69 17.58 L476.25 28.09 L476.81 28 L477.38 27.65 L477.94 16.16 L478.5 15.81 L479.06 27.18 L479.62 15.72 L480.19 16.29 L480.75 17.66 L481.31 28.31 L481.88 27.68 L482.44 16.98 L483 16.62 L483.56 28.43 L484.12 17.98 L484.69 15.92 L485.25 27.71 L485.81 16.56 L486.38 18.26 L486.94 17.4 L487.5 27.27 L488.06 27.64 L488.62 27.16 L489.19 28.28 L489.75 17.24 L490.31 16.26 L490.88 27.93 L491.44 27.44 L492 16.94 L492.56 18.19 L493.12 18.25 L493.69 27.17 L494.25 27.82 L494.81 27.8 L495.38 27.76 L495.94 27.65 L496.5 27.61 L497.06 27.72 L497.62 27.71 L498.19 27.63 L498.75 27.77 L499.31 27.75 L499.88 27.68 L500.44 27.67 L501 27.84 L501.56 27.82 L502.12 27.81 L502.69 27.65 L503.25 27.66 L503.81 27.58 L504.38 27.64 L504.94 27.78 L505.5 27.64 L506.06 27.57 L506.62 27.75 L507.19 27.85 L507.75 27.75 L508.31 27.77 L508.88 27.8 L509.44 27.84 L510 27.82 L510.56 27.61 L511.12 27.84 L511.69 27.68 L512.25 27.79 L512.81 27.8 L513.38 27.62 L513.94 27.77 L514.5 27.8 L515.06 27.72 L515.62 27.66 L516.19 27.7 L516.75 27.61 L517.31 27.74 L517.88 27.7 L518.44 27.65 L519 27.72 L519.56 27.65 L520.12 27.72 L520.69 27.81 L521.25 27.82 L521.81 27.63 L522.38 27.64 L522.94 27.59 L523.5 27.66 L524.06 27.69 L524.62 27.81 L525.19 27.61 L525.75 27.82 L526.31 27.73 L526.88 27.81 L527.44 27.75 L528 27.77 L528.56 27.73 L529.12 27.65 L529.69 27.7 L530.25 27.78 L530.81 27.63 L531.38 27.64 L531.94 27.62 L532.5 27.84 L533.06 27.68 L533.62 27.6 L534.19 27.78 L534.75 27.8 L535.31 27.62 L535.88 27.75 L536.44 27.74 L537 27.62 L537.56 27.74 L538.12 27.8 L538.69 27.79 L539.25 27.76" fill="none" stroke="#1f77b4" stroke-width="0.27" stroke-linejoin="round"/>
<path d="M404.81 90.87h0M405.38 104.01h0M405.94 83.67h0M406.5 56.68h0M407.06 94.41h0M407.62 84.8h0M408.19 85.93h0M408.75 86.77h0M409.31 87.34h0M409.88 99.49h0M410.44 88.75h0M411 103.02h0M411.56 94.41h0M412.12 105.71h0M412.69 87.34h0M413.25 98.64h0M413.81 78.58h0M414.38 94.97h0M414.94 85.93h0M415.5 55.41h0M416.06 79.43h0M416.62 64.87h0M417.19 85.93h0M417.75 56.68h0M418.31 94.41h0M418.88 92.99h0M419.44 75.33h0M420 114.89h0M420.56 94.41h0M421.12 73.21h0M421.69 52.16h0M422.25 90.17h0M422.81 81.26h0M423.38 47.78h0M423.94 73.21h0M424.5 39.3h0M425.06 76.04h0M425.62 84.94h0M426.19 66.14h0M426.75 73.21h0M427.31 57.67h0M427.88 80.27h0M428.44 63.32h0M429 69.39h0M429.56 59.08h0M430.12 38.17h0M430.69 52.72h0M431.25 44.95h0M431.81 83.1h0M432.38 52.01h0M432.94 44.95h0M433.5 42.12h0M434.06 37.88h0M434.62 34.07h0M435.19 33.93h0M435.75 25.59h0M436.31 33.65h0M436.88 32.94h0M437.44 32.23h0M438 32.66h0M438.56 23.05h0M439.12 32.66h0M439.69 32.23h0M440.25 21.21h0M440.81 33.08h0M441.38 32.23h0M441.94 52.16h0M442.5 32.23h0M443.06 30.82h0M443.62 31.53h0M444.19 22.62h0M444.75 29.27h0M445.31 31.67h0M445.88 21.21h0M446.44 20.79h0M447 30.82h0M447.56 33.5h0M448.12 19.37h0M448.69 19.8h0M449.25 27.29h0M449.81 18.49h0M450.38 18.21h0M450.94 28h0M451.5 16.59h0M452.06 18.13h0M452.62 28.4h0M453.19 17.87h0M453.75 16.39h0M454.31 28.35h0M454.88 16.43h0M455.44 16.66h0M456 28.37h0M456.56 17.01h0M457.12 17.26h0M457.69 27.98h0M458.25 15.71h0M458.81 18.26h0M459.38 28.53h0M459.94 15.87h0M460.5 17.39h0M461.06 28.28h0M461.62 17.59h0M462.19 28.04h0M462.75 27.21h0M463.31 39.72h0M463.88 28.26h0M464.44 28.25h0M465 16.87h0M465.56 16.98h0M466.12 27.21h0M466.69 16.16h0M467.25 17.52h0M467.81 28.27h0M468.38 16.16h0M468.94 27.16h0M469.5 28.52h0M470.06 16.45h0M470.62 16.07h0M471.19 27.64h0M471.75 28.25h0M472.31 16.28h0M472.88 16.46h0M473.44 17.98h0M474 27.65h0M474.56 17.91h0M475.12 18.41h0M475.69 17.58h0M476.25 28.09h0M476.81 28h0M477.38 27.65h0M477.94 16.16h0M478.5 15.81h0M479.06 27.18h0M479.62 15.72h0M480.19 16.29h0M480.75 17.66h0M481.31 28.31h0M481.88 27.68h0M482.44 16.98h0M483 16.62h0M483.56 28.43h0M484.12 17.98h0M484.69 15.92h0M485.25 27.71h0M485.81 16.56h0M486.38 18.26h0M486.94 17.4h0M487.5 27.27h0M488.06 27.64h0M488.62 27.16h0M489.19 28.28h0M489.75 17.24h0M490.31 16.26h0M490.88 27.93h0M491.44 27.44h0M492 16.94h0M492.56 18.19h0M493.12 18.25h0M493.69 27.17h0M494.25 27.82h0M494.81 27.8h0M495.38 27.76h0M495.94 27.65h0M496.5 27.61h0M497.06 27.72h0M497.62 27.71h0M498.19 27.63h0M498.75 27.77h0M499.31 27.75h0M499.88 27.68h0M500.44 27.67h0M501 27.84h0M501.56 27.82h0M502.12 27.81h0M502.69 27.65h0M503.25 27.66h0M503.81 27.58h0M504.38 27.64h0M504.94 27.78h0M505.5 27.64h0M506.06 27.57h0M506.62 27.75h0M507.19 27.85h0M507.75 27.75h0M508.31 27.77h0M508.88 27.8h0M509.44 27.84h0M510 27.82h0M510.56 27.61h0M511.12 27.84h0M511.69 27.68h0M512.25 27.79h0M512.81 27.8h0M513.38 27.62h0M513.94 27.77h0M514.5 27.8h0M515.06 27.72h0M515.62 27.66h0M516.19 27.7h0M516.75 27.61h0M517.31 27.74h0M517.88 27.7h0M518.44 27.65h0M519 27.72h0M519.56 27.65h0M520.12 27.72h0M520.69 27.81h0M521.25 27.82h0M521.81 27.63h0M522.38 27.64h0M522.94 27.59h0M523.5 27.66h0M524.06 27.69h0M524.62 27.81h0M525.19 27.61h0M525.75 27.82h0M526.31 27.73h0M526.88 27.81h0M527.44 27.75h0M528 27.77h0M528.56 27.73h0M529.12 27.65h0M529.69 27.7h0M530.25 27.78h0M530.81 27.63h0M531.38 27.64h0M531.94 27.62h0M532.5 27.84h0M533.06 27.68h0M533.62 27.6h0M534.19 27.78h0M534.75 27.8h0M535.31 27.62h0M535.88 27.75h0M536.44 27.74h0M537 27.62h0M537.56 27.74h0M538.12 27.8h0M538.69 27.79h0M539.25 27.76h0" fill="none" stroke="#1f77b4" stroke-width="1.8" stroke-linecap="round"/>
<path d="M404.81 115.6 L405.38 115.6 L405.94 115.6 L406.5 115.6 L407.06 115.6 L407.62 115.6 L408.19 115.6 L408.75 115.6 L409.31 115.6 L409.88 115.6 L410.44 115.6 L411 115.6 L411.56 110.37 L412.12 115.6 L412.69 115.6 L413.25 115.6 L413.81 112.77 L414.38 115.6 L414.94 115.6 L415.5 115.6 L416.06 103.02 L416.62 108.53 L417.19 115.6 L417.75 101.47 L418.31 93.98 L418.88 100.48 L419.44 112.77 L420 102.88 L420.56 107.12 L421.12 109.38 L421.69 104.3 L422.25 115.6 L422.81 101.47 L423.38 97.65 L423.94 107.12 L424.5 111.36 L425.06 101.47 L425.62 108.53 L426.19 104.86 L426.75 109.95 L427.31 101.47 L427.88 95.82 L428.44 95.82 L429 108.53 L429.56 110.65 L430.12 101.47 L430.69 104.3 L431.25 111.22 L431.81 97.65 L432.38 87.34 L432.94 83.1 L433.5 61.62 L434.06 87.34 L434.62 74.06 L435.19 80.27 L435.75 93.13 L436.31 68.55 L436.88 81.69 L437.44 93.98 L438 76.04 L438.56 73.21 L439.12 87.34 L439.69 68.55 L440.25 61.62 L440.81 80.27 L441.38 101.33 L441.94 73.21 L442.5 89.46 L443.06 70.38 L443.62 96.67 L444.19 66.14 L444.75 83.81 L445.31 46.08 L445.88 63.32 L446.44 70.24 L447 95.82 L447.56 63.6 L448.12 85.93 L448.69 57.95 L449.25 55.12 L449.81 73.21 L450.38 70.24 L450.94 81.83 L451.5 60.78 L452.06 38.45 L452.62 52.01 L453.19 44.95 L453.75 60.49 L454.31 36.75 L454.88 41.98 L455.44 36.47 L456 34.35 L456.56 30.54 L457.12 32.23 L457.69 31.95 L458.25 30.82 L458.81 33.36 L459.38 58.51 L459.94 30.82 L460.5 30.11 L461.06 29.41 L461.62 32.94 L462.19 29.12 L462.75 28.28 L463.31 29.46 L463.88 28.56 L464.44 31.53 L465 42.41 L465.56 37.18 L466.12 44.95 L466.69 29.31 L467.25 29.21 L467.81 30.82 L468.38 28.53 L468.94 28.99 L469.5 28.73 L470.06 31.95 L470.62 29.43 L471.19 40.29 L471.75 28.97 L472.31 19.37 L472.88 28.6 L473.44 28.96 L474 28.48 L474.56 28.55 L475.12 29.13 L475.69 29.55 L476.25 35.34 L476.81 27.92 L477.38 28.45 L477.94 28.55 L478.5 27.94 L479.06 27.84 L479.62 27.85 L480.19 27.75 L480.75 28.39 L481.31 28.49 L481.88 28.46 L482.44 27.73 L483 30.4 L483.56 28.46 L484.12 28.42 L484.69 28.54 L485.25 28.52 L485.81 28.53 L486.38 30.11 L486.94 28.26 L487.5 28.42 L488.06 28.3 L488.62 27.77 L489.19 28.42 L489.75 27.87 L490.31 27.93 L490.88 28.08 L491.44 28.07 L492 27.91 L492.56 28.06 L493.12 30.4 L493.69 28.36 L494.25 27.62 L494.81 27.64 L495.38 27.6 L495.94 27.43 L496.5 27.59 L497.06 27.69 L497.62 27.58 L498.19 27.48 L498.75 27.59 L499.31 27.51 L499.88 27.69 L500.44 27.69 L501 27.52 L501.56 27.7 L502.12 27.63 L502.69 27.6 L503.25 27.66 L503.81 27.7 L504.38 27.71 L504.94 27.44 L505.5 27.52 L506.06 27.44 L506.62 27.57 L507.19 27.44 L507.75 27.47 L508.31 27.54 L508.88 27.56 L509.44 27.57 L510 27.65 L510.56 27.61 L511.12 27.51 L511.69 27.66 L512.25 27.47 L512.81 27.57 L513.38 27.54 L513.94 27.48 L514.5 27.53 L515.06 27.67 L515.62 27.64 L516.19 27.71 L516.75 27.7 L517.31 27.44 L517.88 27.54 L518.44 27.44 L519 27.49 L519.56 27.62 L520.12 27.44 L520.69 27.45 L521.25 27.58 L521.81 27.69 L522.38 27.62 L522.94 27.66 L523.5 27.61 L524.06 27.69 L524.62 27.51 L525.19 27.43 L525.75 27.65 L526.31 27.49 L526.88 27.55 L527.44 27.58 L528 27.45 L528.56 27.6 L529.12 27.48 L529.69 27.7 L530.25 27.44 L530.81 27.66 L531.38 27.71 L531.94 27.46 L532.5 27.51 L533.06 27.52 L533.62 27.49 L534.19 27.6 L534.75 27.68 L535.31 27.62 L535.88 27.44 L536.44 27.43 L537 27.65 L537.56 27.59 L538.12 27.58 L538.69 27.46 L539.25 27.71" fill="none" stroke="#ff7f0e" stroke-width="0.27" stroke-linejoin="round"/>
<path d="M404.81 115.6h0M405.38 115.6h0M405.94 115.6h0M406.5 115.6h0M407.06 115.6h0M407.62 115.6h0M408.19 115.6h0M408.75 115.6h0M409.31 115.6h0M409.88 115.6h0M410.44 115.6h0M411 115.6h0M411.56 110.37h0M412.12 115.6h0M412.69 115.6h0M413.25 115.6h0M413.81 112.77h0M414.38 115.6h0M414.94 115.6h0M415.5 115.6h0M416.06 103.02h0M416.62 108.53h0M417.19 115.6h0M417.75 101.47h0M418.31 93.98h0M418.88 100.48h0M419.44 112.77h0M420 102.88h0M420.56 107.12h0M421.12 109.38h0M421.69 104.3h0M422.25 115.6h0M422.81 101.47h0M423.38 97.65h0M423.94 107.12h0M424.5 111.36h0M425.06 101.47h0M425.62 108.53h0M426.19 104.86h0M426.75 109.95h0M427.31 101.47h0M427.88 95.82h0M428.44 95.82h0M429 108.53h0M429.56 110.65h0M430.12 101.47h0M430.69 104.3h0M431.25 111.22h0M431.81 97.65h0M432.38 87.34h0M432.94 83.1h0M433.5 61.62h0M434.06 87.34h0M434.62 74.06h0M435.19 80.27h0M435.75 93.13h0M436.31 68.55h0M436.88 81.69h0M437.44 93.98h0M438 76.04h0M438.56 73.21h0M439.12 87.34h0M439.69 68.55h0M440.25 61.62h0M440.81 80.27h0M441.38 101.33h0M441.94 73.21h0M442.5 89.46h0M443.06 70.38h0M443.62 96.67h0M444.19 66.14h0M444.75 83.81h0M445.31 46.08h0M445.88 63.32h0M446.44 70.24h0M447 95.82h0M447.56 63.6h0M448.12 85.93h0M448.69 57.95h0M449.25 55.12h0M449.81 73.21h0M450.38 70.24h0M450.94 81.83h0M451.5 60.78h0M452.06 38.45h0M452.62 52.01h0M453.19 44.95h0M453.75 60.49h0M454.31 36.75h0M454.88 41.98h0M455.44 36.47h0M456 34.35h0M456.56 30.54h0M457.12 32.23h0M457.69 31.95h0M458.25 30.82h0M458.81 33.36h0M459.38 58.51h0M459.94 30.82h0M460.5 30.11h0M461.06 29.41h0M461.62 32.94h0M462.19 29.12h0M462.75 28.28h0M463.31 29.46h0M463.88 28.56h0M464.44 31.53h0M465 42.41h0M465.56 37.18h0M466.12 44.95h0M466.69 29.31h0M467.25 29.21h0M467.81 30.82h0M468.38 28.53h0M468.94 28.99h0M469.5 28.73h0M470.06 31.95h0M470.62 29.43h0M471.19 40.29h0M471.75 28.97h0M472.31 19.37h0M472.88 28.6h0M473.44 28.96h0M474 28.48h0M474.56 28.55h0M475.12 29.13h0M475.69 29.55h0M476.25 35.34h0M476.81 27.92h0M477.38 28.45h0M477.94 28.55h0M478.5 27.94h0M479.06 27.84h0M479.62 27.85h0M480.19 27.75h0M480.75 28.39h0M481.31 28.49h0M481.88 28.46h0M482.44 27.73h0M483 30.4h0M483.56 28.46h0M484.12 28.42h0M484.69 28.54h0M485.25 28.52h0M485.81 28.53h0M486.38 30.11h0M486.94 28.26h0M487.5 28.42h0M488.06 28.3h0M488.62 27.77h0M489.19 28.42h0M489.75 27.87h0M490.31 27.93h0M490.88 28.08h0M491.44 28.07h0M492 27.91h0M492.56 28.06h0M493.12 30.4h0M493.69 28.36h0M494.25 27.62h0M494.81 27.64h0M495.38 27.6h0M495.94 27.43h0M496.5 27.59h0M497.06 27.69h0M497.62 27.58h0M498.19 27.48h0M498.75 27.59h0M499.31 27.51h0M499.88 27.69h0M500.44 27.69h0M501 27.52h0M501.56 27.7h0M502.12 27.63h0M502.69 27.6h0M503.25 27.66h0M503.81 27.7h0M504.38 27.71h0M504.94 27.44h0M505.5 27.52h0M506.06 27.44h0M506.62 27.57h0M507.19 27.44h0M507.75 27.47h0M508.31 27.54h0M508.88 27.56h0M509.44 27.57h0M510 27.65h0M510.56 27.61h0M511.12 27.51h0M511.69 27.66h0M512.25 27.47h0M512.81 27.57h0M513.38 27.54h0M513.94 27.48h0M514.5 27.53h0M515.06 27.67h0M515.62 27.64h0M516.19 27.71h0M516.75 27.7h0M517.31 27.44h0M517.88 27.54h0M518.44 27.44h0M519 27.49h0M519.56 27.62h0M520.12 27.44h0M520.69 27.45h0M521.25 27.58h0M521.81 27.69h0M522.38 27.62h0M522.94 27.66h0M523.5 27.61h0M524.06 27.69h0M524.62 27.51h0M525.19 27.43h0M525.75 27.65h0M526.31 27.49h0M526.88 27.55h0M527.44 27.58h0M528 27.45h0M528.56 27.6h0M529.12 27.48h0M529.69 27.7h0M530.25 27.44h0M530.81 27.66h0M531.38 27.71h0M531.94 27.46h0M532.5 27.51h0M533.06 27.52h0M533.62 27.49h0M534.19 27.6h0M534.75 27.68h0M535.31 27.62h0M535.88 27.44h0M536.44 27.43h0M537 27.65h0M537.56 27.59h0M538.12 27.58h0M538.69 27.46h0M539.25 27.71h0" fill="none" stroke="#ff7f0e" stroke-width="1.8" stroke-linecap="round"/>
<rect x="501.8" y="12.5" width="42.2" height="12.8" rx="0.9" fill="#eaeaf2" fill-opacity="0.8" stroke="#cccccc" stroke-width="0.3"/>
<path d="M503.6 15.8h8.3" stroke="#1f77b4" stroke-width="0.27" fill="none"/>
<circle cx="507.75" cy="15.8" r="0.9" fill="#1f77b4"/>
<text x="515.25" y="17.3" font-size="4.14">Pretrained</text>
<path d="M503.6 22h8.3" stroke="#ff7f0e" stroke-width="0.27" fill="none"/>
<circle cx="507.75" cy="22" r="0.9" fill="#ff7f0e"/>
<text x="515.25" y="23.5" font-size="4.14">Unpretrained</text>
</g>
<text class="cap" x="469" y="150.5" font-size="12.6" text-anchor="middle">(<tspan font-weight="bold">c</tspan>)</text>
<g>
<rect x="18.9" y="172.2" width="147.7" height="109.9" fill="#eaeaf2"/>
<text x="92.75" y="169.2" font-size="4.96" text-anchor="middle">The AP of Roi Transformer Pretrained/Unpretrained on MiniSAR</text>
<text x="15.7" y="279.05" font-size="4.14" text-anchor="end">0.0</text>
<text x="15.7" y="266.55" font-size="4.14" text-anchor="end">0.1</text>
<text x="15.7" y="254.05" font-size="4.14" text-anchor="end">0.2</text>
<text x="15.7" y="241.55" font-size="4.14" text-anchor="end">0.3</text>
<text x="15.7" y="229.05" font-size="4.14" text-anchor="end">0.4</text>
<text x="15.7" y="216.55" font-size="4.14" text-anchor="end">0.5</text>
<text x="15.7" y="204.05" font-size="4.14" text-anchor="end">0.6</text>
<text x="15.7" y="191.55" font-size="4.14" text-anchor="end">0.7</text>
<text x="15.7" y="179.05" font-size="4.14" text-anchor="end">0.8</text>
<text x="25.05" y="288.5" font-size="4.14" text-anchor="middle">0</text>
<text x="36.3" y="288.5" font-size="4.14" text-anchor="middle">20</text>
<text x="47.55" y="288.5" font-size="4.14" text-anchor="middle">40</text>
<text x="58.8" y="288.5" font-size="4.14" text-anchor="middle">60</text>
<text x="70.05" y="288.5" font-size="4.14" text-anchor="middle">80</text>
<text x="81.3" y="288.5" font-size="4.14" text-anchor="middle">100</text>
<text x="92.55" y="288.5" font-size="4.14" text-anchor="middle">120</text>
<text x="103.8" y="288.5" font-size="4.14" text-anchor="middle">140</text>
<text x="115.05" y="288.5" font-size="4.14" text-anchor="middle">160</text>
<text x="126.3" y="288.5" font-size="4.14" text-anchor="middle">180</text>
<text x="137.55" y="288.5" font-size="4.14" text-anchor="middle">200</text>
<text x="148.8" y="288.5" font-size="4.14" text-anchor="middle">220</text>
<text x="160.05" y="288.5" font-size="4.14" text-anchor="middle">240</text>
<text x="92.75" y="294.15" font-size="4.14" text-anchor="middle">epoch</text>
<text transform="translate(6 227.15) rotate(-90)" font-size="4.14" text-anchor="middle">AP</text>
<path d="M25.61 245.3 L26.17 230.8 L26.74 209.18 L27.3 198.18 L27.86 197.3 L28.42 199.8 L28.99 194.8 L29.55 192.68 L30.11 192.68 L30.67 202.8 L31.24 192.3 L31.8 191.05 L32.36 200.05 L32.92 191.68 L33.49 191.05 L34.05 190.43 L34.61 197.3 L35.17 201.05 L35.74 189.8 L36.3 189.8 L36.86 189.18 L37.42 188.55 L37.99 181.18 L38.55 198.18 L39.11 188.55 L39.67 187.89 L40.24 188 L40.8 188.05 L41.36 187.49 L41.92 187.74 L42.49 187.66 L43.05 187.76 L43.61 187.89 L44.17 187.63 L44.74 187.74 L45.3 187.59 L45.86 187.68 L46.42 187.55 L46.99 187.85 L47.55 188.06 L48.11 188.06 L48.67 187.63 L49.24 188.05 L49.8 187.68 L50.36 187.71 L50.92 188.13 L51.49 187.59 L52.05 198.18 L52.61 188.15 L53.17 187.52 L53.74 187.54 L54.3 178.55 L54.86 177.68 L55.42 177.68 L55.99 177.68 L56.55 188.01 L57.11 187.63 L57.67 177.68 L58.24 187.63 L58.8 182.3 L59.36 188.08 L59.92 187.67 L60.49 188.08 L61.05 187.49 L61.61 187.66 L62.17 187.44 L62.74 177.68 L63.3 188.13 L63.86 187.94 L64.42 187.71 L64.99 187.72 L65.55 188.04 L66.11 187.51 L66.67 187.54 L67.24 187.95 L67.8 188.07 L68.36 187.67 L68.92 187.87 L69.49 187.68 L70.05 187.81 L70.61 187.88 L71.17 188.16 L71.74 188.07 L72.3 187.83 L72.86 187.63 L73.42 187.86 L73.99 187.62 L74.55 187.77 L75.11 187.51 L75.67 187.68 L76.24 187.93 L76.8 188.07 L77.36 188.13 L77.92 188.15 L78.49 187.53 L79.05 187.52 L79.61 187.61 L80.17 188.09 L80.74 187.68 L81.3 188.08 L81.86 177.68 L82.42 187.51 L82.99 187.68 L83.55 187.61 L84.11 187.72 L84.67 177.68 L85.24 187.86 L85.8 187.54 L86.36 187.45 L86.92 187.99 L87.49 187.85 L88.05 187.62 L88.61 187.67 L89.17 187.87 L89.74 187.84 L90.3 187.45 L90.86 187.97 L91.42 188.02 L91.99 187.66 L92.55 187.97 L93.11 177.68 L93.67 177.68 L94.24 177.68 L94.8 187.5 L95.36 187.93 L95.92 187.48 L96.49 187.89 L97.05 187.51 L97.61 187.61 L98.17 187.63 L98.74 188.01 L99.3 188.05 L99.86 188.15 L100.42 188.04 L100.99 187.68 L101.55 188.13 L102.11 177.68 L102.67 188 L103.24 177.68 L103.8 177.68 L104.36 177.68 L104.92 187.75 L105.49 188.06 L106.05 187.93 L106.61 188 L107.17 187.67 L107.74 188.09 L108.3 177.68 L108.86 187.43 L109.42 187.73 L109.99 187.64 L110.55 187.76 L111.11 187.8 L111.67 187.45 L112.24 187.5 L112.8 187.56 L113.36 188.15 L113.92 187.73 L114.49 187.47 L115.05 186.82 L115.61 186.85 L116.17 186.81 L116.74 186.93 L117.3 186.79 L117.86 186.78 L118.42 186.96 L118.99 186.85 L119.55 186.83 L120.11 186.89 L120.67 186.8 L121.24 186.74 L121.8 186.75 L122.36 186.9 L122.92 186.94 L123.49 186.76 L124.05 186.82 L124.61 186.77 L125.17 186.76 L125.74 186.91 L126.3 186.83 L126.86 186.9 L127.42 186.78 L127.99 186.8 L128.55 186.92 L129.11 186.85 L129.68 186.83 L130.24 186.92 L130.8 186.93 L131.36 186.86 L131.93 186.96 L132.49 186.85 L133.05 186.74 L133.61 186.77 L134.18 186.96 L134.74 186.77 L135.3 186.8 L135.86 186.8 L136.43 186.97 L136.99 186.79 L137.55 186.93 L138.11 186.77 L138.68 186.89 L139.24 186.88 L139.8 186.93 L140.36 186.76 L140.93 186.92 L141.49 186.76 L142.05 186.85 L142.61 186.94 L143.18 186.81 L143.74 186.84 L144.3 186.97 L144.86 186.77 L145.43 186.91 L145.99 186.97 L146.55 186.78 L147.11 186.79 L147.68 186.88 L148.24 186.93 L148.8 186.84 L149.36 186.83 L149.93 186.8 L150.49 186.85 L151.05 186.83 L151.61 186.79 L152.18 186.93 L152.74 186.93 L153.3 186.85 L153.86 186.79 L154.43 186.77 L154.99 186.76 L155.55 186.87 L156.11 186.8 L156.68 186.95 L157.24 186.88 L157.8 186.96 L158.36 186.77 L158.93 186.73 L159.49 186.81 L160.05 186.79" fill="none" stroke="#1f77b4" stroke-width="0.27" stroke-linejoin="round"/>
<path d="M25.61 245.3h0M26.17 230.8h0M26.74 209.18h0M27.3 198.18h0M27.86 197.3h0M28.42 199.8h0M28.99 194.8h0M29.55 192.68h0M30.11 192.68h0M30.67 202.8h0M31.24 192.3h0M31.8 191.05h0M32.36 200.05h0M32.92 191.68h0M33.49 191.05h0M34.05 190.43h0M34.61 197.3h0M35.17 201.05h0M35.74 189.8h0M36.3 189.8h0M36.86 189.18h0M37.42 188.55h0M37.99 181.18h0M38.55 198.18h0M39.11 188.55h0M39.67 187.89h0M40.24 188h0M40.8 188.05h0M41.36 187.49h0M41.92 187.74h0M42.49 187.66h0M43.05 187.76h0M43.61 187.89h0M44.17 187.63h0M44.74 187.74h0M45.3 187.59h0M45.86 187.68h0M46.42 187.55h0M46.99 187.85h0M47.55 188.06h0M48.11 188.06h0M48.67 187.63h0M49.24 188.05h0M49.8 187.68h0M50.36 187.71h0M50.92 188.13h0M51.49 187.59h0M52.05 198.18h0M52.61 188.15h0M53.17 187.52h0M53.74 187.54h0M54.3 178.55h0M54.86 177.68h0M55.42 177.68h0M55.99 177.68h0M56.55 188.01h0M57.11 187.63h0M57.67 177.68h0M58.24 187.63h0M58.8 182.3h0M59.36 188.08h0M59.92 187.67h0M60.49 188.08h0M61.05 187.49h0M61.61 187.66h0M62.17 187.44h0M62.74 177.68h0M63.3 188.13h0M63.86 187.94h0M64.42 187.71h0M64.99 187.72h0M65.55 188.04h0M66.11 187.51h0M66.67 187.54h0M67.24 187.95h0M67.8 188.07h0M68.36 187.67h0M68.92 187.87h0M69.49 187.68h0M70.05 187.81h0M70.61 187.88h0M71.17 188.16h0M71.74 188.07h0M72.3 187.83h0M72.86 187.63h0M73.42 187.86h0M73.99 187.62h0M74.55 187.77h0M75.11 187.51h0M75.67 187.68h0M76.24 187.93h0M76.8 188.07h0M77.36 188.13h0M77.92 188.15h0M78.49 187.53h0M79.05 187.52h0M79.61 187.61h0M80.17 188.09h0M80.74 187.68h0M81.3 188.08h0M81.86 177.68h0M82.42 187.51h0M82.99 187.68h0M83.55 187.61h0M84.11 187.72h0M84.67 177.68h0M85.24 187.86h0M85.8 187.54h0M86.36 187.45h0M86.92 187.99h0M87.49 187.85h0M88.05 187.62h0M88.61 187.67h0M89.17 187.87h0M89.74 187.84h0M90.3 187.45h0M90.86 187.97h0M91.42 188.02h0M91.99 187.66h0M92.55 187.97h0M93.11 177.68h0M93.67 177.68h0M94.24 177.68h0M94.8 187.5h0M95.36 187.93h0M95.92 187.48h0M96.49 187.89h0M97.05 187.51h0M97.61 187.61h0M98.17 187.63h0M98.74 188.01h0M99.3 188.05h0M99.86 188.15h0M100.42 188.04h0M100.99 187.68h0M101.55 188.13h0M102.11 177.68h0M102.67 188h0M103.24 177.68h0M103.8 177.68h0M104.36 177.68h0M104.92 187.75h0M105.49 188.06h0M106.05 187.93h0M106.61 188h0M107.17 187.67h0M107.74 188.09h0M108.3 177.68h0M108.86 187.43h0M109.42 187.73h0M109.99 187.64h0M110.55 187.76h0M111.11 187.8h0M111.67 187.45h0M112.24 187.5h0M112.8 187.56h0M113.36 188.15h0M113.92 187.73h0M114.49 187.47h0M115.05 186.82h0M115.61 186.85h0M116.17 186.81h0M116.74 186.93h0M117.3 186.79h0M117.86 186.78h0M118.42 186.96h0M118.99 186.85h0M119.55 186.83h0M120.11 186.89h0M120.67 186.8h0M121.24 186.74h0M121.8 186.75h0M122.36 186.9h0M122.92 186.94h0M123.49 186.76h0M124.05 186.82h0M124.61 186.77h0M125.17 186.76h0M125.74 186.91h0M126.3 186.83h0M126.86 186.9h0M127.42 186.78h0M127.99 186.8h0M128.55 186.92h0M129.11 186.85h0M129.68 186.83h0M130.24 186.92h0M130.8 186.93h0M131.36 186.86h0M131.93 186.96h0M132.49 186.85h0M133.05 186.74h0M133.61 186.77h0M134.18 186.96h0M134.74 186.77h0M135.3 186.8h0M135.86 186.8h0M136.43 186.97h0M136.99 186.79h0M137.55 186.93h0M138.11 186.77h0M138.68 186.89h0M139.24 186.88h0M139.8 186.93h0M140.36 186.76h0M140.93 186.92h0M141.49 186.76h0M142.05 186.85h0M142.61 186.94h0M143.18 186.81h0M143.74 186.84h0M144.3 186.97h0M144.86 186.77h0M145.43 186.91h0M145.99 186.97h0M146.55 186.78h0M147.11 186.79h0M147.68 186.88h0M148.24 186.93h0M148.8 186.84h0M149.36 186.83h0M149.93 186.8h0M150.49 186.85h0M151.05 186.83h0M151.61 186.79h0M152.18 186.93h0M152.74 186.93h0M153.3 186.85h0M153.86 186.79h0M154.43 186.77h0M154.99 186.76h0M155.55 186.87h0M156.11 186.8h0M156.68 186.95h0M157.24 186.88h0M157.8 186.96h0M158.36 186.77h0M158.93 186.73h0M159.49 186.81h0M160.05 186.79h0" fill="none" stroke="#1f77b4" stroke-width="1.8" stroke-linecap="round"/>
<path d="M25.61 277.3 L26.17 274.55 L26.74 268.3 L27.3 265.93 L27.86 255.8 L28.42 256.05 L28.99 254.8 L29.55 252.8 L30.11 246.05 L30.67 239.43 L31.24 227.3 L31.8 228.55 L32.36 230.3 L32.92 219.18 L33.49 205.55 L34.05 243.05 L34.61 235.18 L35.17 214.8 L35.74 216.43 L36.3 207.3 L36.86 202.3 L37.42 201.05 L37.99 199.8 L38.55 197.3 L39.11 196.05 L39.67 193.55 L40.24 192.3 L40.8 201.05 L41.36 192.3 L41.92 191.05 L42.49 199.8 L43.05 191.05 L43.61 190.43 L44.17 189.8 L44.74 189.8 L45.3 179.93 L45.86 198.18 L46.42 189.8 L46.99 189.8 L47.55 198.18 L48.11 189.8 L48.67 189.18 L49.24 189.18 L49.8 178.93 L50.36 189.18 L50.92 188.41 L51.49 189.02 L52.05 188.77 L52.61 188.83 L53.17 188.31 L53.74 188.37 L54.3 188.16 L54.86 188.96 L55.42 198.18 L55.99 188.63 L56.55 189.02 L57.11 188.83 L57.67 188.54 L58.24 189.02 L58.8 188.85 L59.36 188.4 L59.92 182.68 L60.49 188.51 L61.05 192.68 L61.61 188.83 L62.17 183.55 L62.74 188.46 L63.3 188.24 L63.86 189.04 L64.42 188.24 L64.99 188.35 L65.55 188.71 L66.11 188.89 L66.67 177.3 L67.24 188.09 L67.8 188.71 L68.36 188.96 L68.92 188.95 L69.49 188.2 L70.05 178.93 L70.61 188.45 L71.17 188.24 L71.74 188.32 L72.3 188.51 L72.86 178.55 L73.42 188.08 L73.99 188.67 L74.55 188.5 L75.11 188.22 L75.67 188.43 L76.24 188.19 L76.8 188.47 L77.36 188.35 L77.92 189 L78.49 188.82 L79.05 188.76 L79.61 188.97 L80.17 188.82 L80.74 188.95 L81.3 178.55 L81.86 188.77 L82.42 178.55 L82.99 188.41 L83.55 188.69 L84.11 188.68 L84.67 188.84 L85.24 188.78 L85.8 188.11 L86.36 188.4 L86.92 188.44 L87.49 188.88 L88.05 188.32 L88.61 188.89 L89.17 188.67 L89.74 188.06 L90.3 188.41 L90.86 188.49 L91.42 188.37 L91.99 188.21 L92.55 188.27 L93.11 188.82 L93.67 189.02 L94.24 188.73 L94.8 188.78 L95.36 188.84 L95.92 188.11 L96.49 188.17 L97.05 188.74 L97.61 188.39 L98.17 188.65 L98.74 188.14 L99.3 188.59 L99.86 188.79 L100.42 188.8 L100.99 188.49 L101.55 188.79 L102.11 188.47 L102.67 188.15 L103.24 188.65 L103.8 188.83 L104.36 188.05 L104.92 188.54 L105.49 188.96 L106.05 189 L106.61 188.94 L107.17 188.42 L107.74 188.26 L108.3 198.18 L108.86 188.63 L109.42 188.99 L109.99 188.67 L110.55 188.05 L111.11 188.52 L111.67 188.08 L112.24 199.05 L112.8 198.55 L113.36 199.05 L113.92 198.8 L114.49 188.19 L115.05 187.92 L115.61 187.74 L116.17 187.75 L116.74 187.79 L117.3 187.86 L117.86 187.76 L118.42 187.9 L118.99 187.82 L119.55 187.81 L120.11 187.69 L120.67 187.71 L121.24 187.86 L121.8 187.8 L122.36 187.88 L122.92 187.7 L123.49 187.71 L124.05 187.85 L124.61 187.77 L125.17 187.77 L125.74 187.89 L126.3 187.73 L126.86 187.79 L127.42 187.73 L127.99 187.79 L128.55 187.92 L129.11 187.84 L129.68 187.92 L130.24 187.69 L130.8 187.71 L131.36 187.72 L131.93 187.85 L132.49 187.91 L133.05 187.71 L133.61 187.69 L134.18 187.9 L134.74 187.8 L135.3 187.91 L135.86 187.73 L136.43 187.73 L136.99 187.89 L137.55 187.81 L138.11 187.79 L138.68 187.86 L139.24 187.71 L139.8 187.82 L140.36 187.87 L140.93 187.79 L141.49 187.74 L142.05 187.87 L142.61 187.85 L143.18 187.68 L143.74 187.76 L144.3 187.82 L144.86 187.8 L145.43 187.89 L145.99 187.87 L146.55 187.84 L147.11 187.78 L147.68 187.87 L148.24 187.87 L148.8 187.91 L149.36 187.77 L149.93 187.87 L150.49 187.7 L151.05 187.71 L151.61 187.91 L152.18 187.87 L152.74 187.76 L153.3 187.87 L153.86 187.89 L154.43 187.69 L154.99 187.78 L155.55 187.81 L156.11 187.73 L156.68 187.72 L157.24 187.88 L157.8 187.9 L158.36 187.82 L158.93 187.82 L159.49 187.81 L160.05 187.74" fill="none" stroke="#ff7f0e" stroke-width="0.27" stroke-linejoin="round"/>
<path d="M25.61 277.3h0M26.17 274.55h0M26.74 268.3h0M27.3 265.93h0M27.86 255.8h0M28.42 256.05h0M28.99 254.8h0M29.55 252.8h0M30.11 246.05h0M30.67 239.43h0M31.24 227.3h0M31.8 228.55h0M32.36 230.3h0M32.92 219.18h0M33.49 205.55h0M34.05 243.05h0M34.61 235.18h0M35.17 214.8h0M35.74 216.43h0M36.3 207.3h0M36.86 202.3h0M37.42 201.05h0M37.99 199.8h0M38.55 197.3h0M39.11 196.05h0M39.67 193.55h0M40.24 192.3h0M40.8 201.05h0M41.36 192.3h0M41.92 191.05h0M42.49 199.8h0M43.05 191.05h0M43.61 190.43h0M44.17 189.8h0M44.74 189.8h0M45.3 179.93h0M45.86 198.18h0M46.42 189.8h0M46.99 189.8h0M47.55 198.18h0M48.11 189.8h0M48.67 189.18h0M49.24 189.18h0M49.8 178.93h0M50.36 189.18h0M50.92 188.41h0M51.49 189.02h0M52.05 188.77h0M52.61 188.83h0M53.17 188.31h0M53.74 188.37h0M54.3 188.16h0M54.86 188.96h0M55.42 198.18h0M55.99 188.63h0M56.55 189.02h0M57.11 188.83h0M57.67 188.54h0M58.24 189.02h0M58.8 188.85h0M59.36 188.4h0M59.92 182.68h0M60.49 188.51h0M61.05 192.68h0M61.61 188.83h0M62.17 183.55h0M62.74 188.46h0M63.3 188.24h0M63.86 189.04h0M64.42 188.24h0M64.99 188.35h0M65.55 188.71h0M66.11 188.89h0M66.67 177.3h0M67.24 188.09h0M67.8 188.71h0M68.36 188.96h0M68.92 188.95h0M69.49 188.2h0M70.05 178.93h0M70.61 188.45h0M71.17 188.24h0M71.74 188.32h0M72.3 188.51h0M72.86 178.55h0M73.42 188.08h0M73.99 188.67h0M74.55 188.5h0M75.11 188.22h0M75.67 188.43h0M76.24 188.19h0M76.8 188.47h0M77.36 188.35h0M77.92 189h0M78.49 188.82h0M79.05 188.76h0M79.61 188.97h0M80.17 188.82h0M80.74 188.95h0M81.3 178.55h0M81.86 188.77h0M82.42 178.55h0M82.99 188.41h0M83.55 188.69h0M84.11 188.68h0M84.67 188.84h0M85.24 188.78h0M85.8 188.11h0M86.36 188.4h0M86.92 188.44h0M87.49 188.88h0M88.05 188.32h0M88.61 188.89h0M89.17 188.67h0M89.74 188.06h0M90.3 188.41h0M90.86 188.49h0M91.42 188.37h0M91.99 188.21h0M92.55 188.27h0M93.11 188.82h0M93.67 189.02h0M94.24 188.73h0M94.8 188.78h0M95.36 188.84h0M95.92 188.11h0M96.49 188.17h0M97.05 188.74h0M97.61 188.39h0M98.17 188.65h0M98.74 188.14h0M99.3 188.59h0M99.86 188.79h0M100.42 188.8h0M100.99 188.49h0M101.55 188.79h0M102.11 188.47h0M102.67 188.15h0M103.24 188.65h0M103.8 188.83h0M104.36 188.05h0M104.92 188.54h0M105.49 188.96h0M106.05 189h0M106.61 188.94h0M107.17 188.42h0M107.74 188.26h0M108.3 198.18h0M108.86 188.63h0M109.42 188.99h0M109.99 188.67h0M110.55 188.05h0M111.11 188.52h0M111.67 188.08h0M112.24 199.05h0M112.8 198.55h0M113.36 199.05h0M113.92 198.8h0M114.49 188.19h0M115.05 187.92h0M115.61 187.74h0M116.17 187.75h0M116.74 187.79h0M117.3 187.86h0M117.86 187.76h0M118.42 187.9h0M118.99 187.82h0M119.55 187.81h0M120.11 187.69h0M120.67 187.71h0M121.24 187.86h0M121.8 187.8h0M122.36 187.88h0M122.92 187.7h0M123.49 187.71h0M124.05 187.85h0M124.61 187.77h0M125.17 187.77h0M125.74 187.89h0M126.3 187.73h0M126.86 187.79h0M127.42 187.73h0M127.99 187.79h0M128.55 187.92h0M129.11 187.84h0M129.68 187.92h0M130.24 187.69h0M130.8 187.71h0M131.36 187.72h0M131.93 187.85h0M132.49 187.91h0M133.05 187.71h0M133.61 187.69h0M134.18 187.9h0M134.74 187.8h0M135.3 187.91h0M135.86 187.73h0M136.43 187.73h0M136.99 187.89h0M137.55 187.81h0M138.11 187.79h0M138.68 187.86h0M139.24 187.71h0M139.8 187.82h0M140.36 187.87h0M140.93 187.79h0M141.49 187.74h0M142.05 187.87h0M142.61 187.85h0M143.18 187.68h0M143.74 187.76h0M144.3 187.82h0M144.86 187.8h0M145.43 187.89h0M145.99 187.87h0M146.55 187.84h0M147.11 187.78h0M147.68 187.87h0M148.24 187.87h0M148.8 187.91h0M149.36 187.77h0M149.93 187.87h0M150.49 187.7h0M151.05 187.71h0M151.61 187.91h0M152.18 187.87h0M152.74 187.76h0M153.3 187.87h0M153.86 187.89h0M154.43 187.69h0M154.99 187.78h0M155.55 187.81h0M156.11 187.73h0M156.68 187.72h0M157.24 187.88h0M157.8 187.9h0M158.36 187.82h0M158.93 187.82h0M159.49 187.81h0M160.05 187.74h0" fill="none" stroke="#ff7f0e" stroke-width="1.8" stroke-linecap="round"/>
<rect x="122.4" y="266.5" width="42.2" height="13.6" rx="0.9" fill="#eaeaf2" fill-opacity="0.8" stroke="#cccccc" stroke-width="0.3"/>
<path d="M124.2 270.35h8.3" stroke="#1f77b4" stroke-width="0.27" fill="none"/>
<circle cx="128.35" cy="270.35" r="0.9" fill="#1f77b4"/>
<text x="135.85" y="271.85" font-size="4.14">Pretrained</text>
<path d="M124.2 276.55h8.3" stroke="#ff7f0e" stroke-width="0.27" fill="none"/>
<circle cx="128.35" cy="276.55" r="0.9" fill="#ff7f0e"/>
<text x="135.85" y="278.05" font-size="4.14">Unpretrained</text>
</g>
<text class="cap" x="89.8" y="312.1" font-size="12.6" text-anchor="middle">(<tspan font-weight="bold">d</tspan>)</text>
<g>
<rect x="208.4" y="172.2" width="147.7" height="109.9" fill="#eaeaf2"/>
<text x="282.25" y="169.2" font-size="4.96" text-anchor="middle">The AP of Oriented Rcnn Pretrained/Unpretrained on MiniSAR</text>
<text x="205.2" y="279.05" font-size="4.14" text-anchor="end">0.0</text>
<text x="205.2" y="266.49" font-size="4.14" text-anchor="end">0.1</text>
<text x="205.2" y="253.93" font-size="4.14" text-anchor="end">0.2</text>
<text x="205.2" y="241.37" font-size="4.14" text-anchor="end">0.3</text>
<text x="205.2" y="228.81" font-size="4.14" text-anchor="end">0.4</text>
<text x="205.2" y="216.25" font-size="4.14" text-anchor="end">0.5</text>
<text x="205.2" y="203.69" font-size="4.14" text-anchor="end">0.6</text>
<text x="205.2" y="191.13" font-size="4.14" text-anchor="end">0.7</text>
<text x="205.2" y="178.57" font-size="4.14" text-anchor="end">0.8</text>
<text x="214.55" y="288.5" font-size="4.14" text-anchor="middle">0</text>
<text x="225.8" y="288.5" font-size="4.14" text-anchor="middle">20</text>
<text x="237.05" y="288.5" font-size="4.14" text-anchor="middle">40</text>
<text x="248.3" y="288.5" font-size="4.14" text-anchor="middle">60</text>
<text x="259.55" y="288.5" font-size="4.14" text-anchor="middle">80</text>
<text x="270.8" y="288.5" font-size="4.14" text-anchor="middle">100</text>
<text x="282.05" y="288.5" font-size="4.14" text-anchor="middle">120</text>
<text x="293.3" y="288.5" font-size="4.14" text-anchor="middle">140</text>
<text x="304.55" y="288.5" font-size="4.14" text-anchor="middle">160</text>
<text x="315.8" y="288.5" font-size="4.14" text-anchor="middle">180</text>
<text x="327.05" y="288.5" font-size="4.14" text-anchor="middle">200</text>
<text x="338.3" y="288.5" font-size="4.14" text-anchor="middle">220</text>
<text x="349.55" y="288.5" font-size="4.14" text-anchor="middle">240</text>
<text x="282.25" y="294.15" font-size="4.14" text-anchor="middle">epoch</text>
<text transform="translate(195.5 227.15) rotate(-90)" font-size="4.14" text-anchor="middle">AP</text>
<path d="M215.11 235.1 L215.68 212.62 L216.24 198.67 L216.8 197.54 L217.36 196.92 L217.93 195.66 L218.49 185.86 L219.05 194.15 L219.61 193.15 L220.18 184.98 L220.74 191.89 L221.3 191.89 L221.86 183.1 L222.43 183.1 L222.99 191.39 L223.55 190.64 L224.11 179.08 L224.68 190.64 L225.24 190.01 L225.8 182.22 L226.36 193.27 L226.93 189.38 L227.49 189.28 L228.05 189.05 L228.61 189.27 L229.18 188.74 L229.74 189.14 L230.3 188.86 L230.86 188.54 L231.43 188.9 L231.99 188.44 L232.55 188.58 L233.11 188.68 L233.68 188.58 L234.24 188.57 L234.8 178.29 L235.36 188.19 L235.93 188.6 L236.49 188.12 L237.05 188.18 L237.61 178.79 L238.18 178.44 L238.74 188.35 L239.3 188.06 L239.86 188.51 L240.43 188.14 L240.99 188.29 L241.55 187.93 L242.11 177.43 L242.68 187.88 L243.24 188.27 L243.8 177.68 L244.36 188.01 L244.93 187.67 L245.49 187.91 L246.05 187.54 L246.61 187.44 L247.18 187.53 L247.74 187.49 L248.3 187.38 L248.86 187.55 L249.43 178.57 L249.99 187.26 L250.55 187.65 L251.11 178.81 L251.68 187.67 L252.24 187.69 L252.8 178.53 L253.36 177.38 L253.93 187.91 L254.49 187.32 L255.05 187.58 L255.61 178.56 L256.18 187.73 L256.74 187.66 L257.3 187.91 L257.86 177.68 L258.43 187.51 L258.99 187.26 L259.55 187.37 L260.11 187.41 L260.68 177.33 L261.24 187.3 L261.8 187.51 L262.36 187.59 L262.93 187.6 L263.49 187.39 L264.05 177.43 L264.61 187.37 L265.18 187.37 L265.74 178.79 L266.3 187.68 L266.86 187.93 L267.43 177.95 L267.99 177.96 L268.55 187.58 L269.11 187.35 L269.68 187.83 L270.24 177.73 L270.8 177.95 L271.36 187.84 L271.93 187.26 L272.49 178.75 L273.05 187.65 L273.61 187.59 L274.18 177.93 L274.74 187.26 L275.3 187.58 L275.86 177.49 L276.43 187.78 L276.99 187.64 L277.55 178.61 L278.11 177.87 L278.68 187.68 L279.24 187.41 L279.8 178.66 L280.36 178.13 L280.93 187.28 L281.49 187.99 L282.05 187.5 L282.61 187.49 L283.18 187.45 L283.74 187.58 L284.3 187.62 L284.86 177.38 L285.43 178.4 L285.99 187.47 L286.55 177.82 L287.11 187.45 L287.68 178.11 L288.24 178.8 L288.8 187.41 L289.36 187.79 L289.93 177.65 L290.49 177.34 L291.05 187.41 L291.61 178.22 L292.18 187.35 L292.74 178.25 L293.3 187.76 L293.86 187.57 L294.43 187.51 L294.99 187.48 L295.55 178 L296.11 187.69 L296.68 187.44 L297.24 187.75 L297.8 187.54 L298.36 187.99 L298.93 187.9 L299.49 187.34 L300.05 178.5 L300.61 187.69 L301.18 187.96 L301.74 187.42 L302.3 187.75 L302.86 178.76 L303.43 187.79 L303.99 187.3 L304.55 187.43 L305.11 188 L305.68 187.28 L306.24 187.94 L306.8 187.63 L307.36 178.02 L307.93 177.65 L308.49 187.89 L309.05 187.38 L309.61 178.42 L310.18 177.72 L310.74 187.3 L311.3 187.55 L311.86 178.83 L312.43 187.5 L312.99 187.14 L313.55 187.06 L314.11 187.05 L314.68 187.22 L315.24 187.1 L315.8 187.08 L316.36 187.01 L316.93 187.09 L317.49 187.09 L318.05 187.05 L318.61 187.2 L319.18 187.03 L319.74 187.1 L320.3 187.09 L320.86 187.21 L321.43 187.11 L321.99 187.14 L322.55 187.19 L323.11 187.01 L323.68 187.03 L324.24 187.13 L324.8 187.23 L325.36 187 L325.93 187.22 L326.49 187.12 L327.05 187.1 L327.61 187.03 L328.18 187.08 L328.74 187.09 L329.3 187.12 L329.86 187 L330.43 187.04 L330.99 187.16 L331.55 187.05 L332.11 187.01 L332.68 187.12 L333.24 187.22 L333.8 187.23 L334.36 187 L334.93 187.19 L335.49 187.04 L336.05 187.2 L336.61 187.19 L337.18 187.2 L337.74 187.04 L338.3 187.22 L338.86 187.13 L339.43 187.04 L339.99 187.11 L340.55 187.24 L341.11 187.24 L341.68 187.04 L342.24 187.17 L342.8 187.22 L343.36 187.11 L343.93 187.05 L344.49 187.17 L345.05 187.21 L345.61 187.2 L346.18 187.13 L346.74 187.05 L347.3 187.22 L347.86 187.05 L348.43 187.07 L348.99 187.1 L349.55 187.15" fill="none" stroke="#1f77b4" stroke-width="0.27" stroke-linejoin="round"/>
<path d="M215.11 235.1h0M215.68 212.62h0M216.24 198.67h0M216.8 197.54h0M217.36 196.92h0M217.93 195.66h0M218.49 185.86h0M219.05 194.15h0M219.61 193.15h0M220.18 184.98h0M220.74 191.89h0M221.3 191.89h0M221.86 183.1h0M222.43 183.1h0M222.99 191.39h0M223.55 190.64h0M224.11 179.08h0M224.68 190.64h0M225.24 190.01h0M225.8 182.22h0M226.36 193.27h0M226.93 189.38h0M227.49 189.28h0M228.05 189.05h0M228.61 189.27h0M229.18 188.74h0M229.74 189.14h0M230.3 188.86h0M230.86 188.54h0M231.43 188.9h0M231.99 188.44h0M232.55 188.58h0M233.11 188.68h0M233.68 188.58h0M234.24 188.57h0M234.8 178.29h0M235.36 188.19h0M235.93 188.6h0M236.49 188.12h0M237.05 188.18h0M237.61 178.79h0M238.18 178.44h0M238.74 188.35h0M239.3 188.06h0M239.86 188.51h0M240.43 188.14h0M240.99 188.29h0M241.55 187.93h0M242.11 177.43h0M242.68 187.88h0M243.24 188.27h0M243.8 177.68h0M244.36 188.01h0M244.93 187.67h0M245.49 187.91h0M246.05 187.54h0M246.61 187.44h0M247.18 187.53h0M247.74 187.49h0M248.3 187.38h0M248.86 187.55h0M249.43 178.57h0M249.99 187.26h0M250.55 187.65h0M251.11 178.81h0M251.68 187.67h0M252.24 187.69h0M252.8 178.53h0M253.36 177.38h0M253.93 187.91h0M254.49 187.32h0M255.05 187.58h0M255.61 178.56h0M256.18 187.73h0M256.74 187.66h0M257.3 187.91h0M257.86 177.68h0M258.43 187.51h0M258.99 187.26h0M259.55 187.37h0M260.11 187.41h0M260.68 177.33h0M261.24 187.3h0M261.8 187.51h0M262.36 187.59h0M262.93 187.6h0M263.49 187.39h0M264.05 177.43h0M264.61 187.37h0M265.18 187.37h0M265.74 178.79h0M266.3 187.68h0M266.86 187.93h0M267.43 177.95h0M267.99 177.96h0M268.55 187.58h0M269.11 187.35h0M269.68 187.83h0M270.24 177.73h0M270.8 177.95h0M271.36 187.84h0M271.93 187.26h0M272.49 178.75h0M273.05 187.65h0M273.61 187.59h0M274.18 177.93h0M274.74 187.26h0M275.3 187.58h0M275.86 177.49h0M276.43 187.78h0M276.99 187.64h0M277.55 178.61h0M278.11 177.87h0M278.68 187.68h0M279.24 187.41h0M279.8 178.66h0M280.36 178.13h0M280.93 187.28h0M281.49 187.99h0M282.05 187.5h0M282.61 187.49h0M283.18 187.45h0M283.74 187.58h0M284.3 187.62h0M284.86 177.38h0M285.43 178.4h0M285.99 187.47h0M286.55 177.82h0M287.11 187.45h0M287.68 178.11h0M288.24 178.8h0M288.8 187.41h0M289.36 187.79h0M289.93 177.65h0M290.49 177.34h0M291.05 187.41h0M291.61 178.22h0M292.18 187.35h0M292.74 178.25h0M293.3 187.76h0M293.86 187.57h0M294.43 187.51h0M294.99 187.48h0M295.55 178h0M296.11 187.69h0M296.68 187.44h0M297.24 187.75h0M297.8 187.54h0M298.36 187.99h0M298.93 187.9h0M299.49 187.34h0M300.05 178.5h0M300.61 187.69h0M301.18 187.96h0M301.74 187.42h0M302.3 187.75h0M302.86 178.76h0M303.43 187.79h0M303.99 187.3h0M304.55 187.43h0M305.11 188h0M305.68 187.28h0M306.24 187.94h0M306.8 187.63h0M307.36 178.02h0M307.93 177.65h0M308.49 187.89h0M309.05 187.38h0M309.61 178.42h0M310.18 177.72h0M310.74 187.3h0M311.3 187.55h0M311.86 178.83h0M312.43 187.5h0M312.99 187.14h0M313.55 187.06h0M314.11 187.05h0M314.68 187.22h0M315.24 187.1h0M315.8 187.08h0M316.36 187.01h0M316.93 187.09h0M317.49 187.09h0M318.05 187.05h0M318.61 187.2h0M319.18 187.03h0M319.74 187.1h0M320.3 187.09h0M320.86 187.21h0M321.43 187.11h0M321.99 187.14h0M322.55 187.19h0M323.11 187.01h0M323.68 187.03h0M324.24 187.13h0M324.8 187.23h0M325.36 187h0M325.93 187.22h0M326.49 187.12h0M327.05 187.1h0M327.61 187.03h0M328.18 187.08h0M328.74 187.09h0M329.3 187.12h0M329.86 187h0M330.43 187.04h0M330.99 187.16h0M331.55 187.05h0M332.11 187.01h0M332.68 187.12h0M333.24 187.22h0M333.8 187.23h0M334.36 187h0M334.93 187.19h0M335.49 187.04h0M336.05 187.2h0M336.61 187.19h0M337.18 187.2h0M337.74 187.04h0M338.3 187.22h0M338.86 187.13h0M339.43 187.04h0M339.99 187.11h0M340.55 187.24h0M341.11 187.24h0M341.68 187.04h0M342.24 187.17h0M342.8 187.22h0M343.36 187.11h0M343.93 187.05h0M344.49 187.17h0M345.05 187.21h0M345.61 187.2h0M346.18 187.13h0M346.74 187.05h0M347.3 187.22h0M347.86 187.05h0M348.43 187.07h0M348.99 187.1h0M349.55 187.15h0" fill="none" stroke="#1f77b4" stroke-width="1.8" stroke-linecap="round"/>
<path d="M215.11 277.3 L215.68 270.14 L216.24 266 L216.8 263.48 L217.36 262.23 L217.93 260.97 L218.49 264.74 L219.05 269.76 L219.61 275.42 L220.18 247.53 L220.74 239.62 L221.3 233.34 L221.86 227.06 L222.43 225.05 L222.99 231.71 L223.55 223.29 L224.11 218.39 L224.68 220.78 L225.24 222.04 L225.8 223.67 L226.36 227.06 L226.93 238.36 L227.49 218.39 L228.05 211.99 L228.61 208.72 L229.18 206.46 L229.74 205.71 L230.3 206.96 L230.86 209.48 L231.43 203.2 L231.99 201.94 L232.55 201.31 L233.11 200.68 L233.68 193.27 L234.24 200.68 L234.8 201.94 L235.36 200.68 L235.93 201.94 L236.49 203.2 L237.05 201.94 L237.61 204.45 L238.18 205.08 L238.74 201.94 L239.3 199.43 L239.86 198.17 L240.43 196.92 L240.99 195.66 L241.55 195.03 L242.11 194.4 L242.68 194.4 L243.24 193.78 L243.8 193.15 L244.36 191.39 L244.93 191.89 L245.49 191.89 L246.05 191.26 L246.61 191.89 L247.18 194.4 L247.74 191.26 L248.3 191.26 L248.86 190.03 L249.43 190.96 L249.99 190.28 L250.55 190.53 L251.11 197.8 L251.68 190.07 L252.24 190.6 L252.8 190.09 L253.36 190.85 L253.93 190.01 L254.49 190.6 L255.05 190.83 L255.61 198.67 L256.18 190.67 L256.74 190.38 L257.3 190.98 L257.86 190.62 L258.43 198.17 L258.99 191 L259.55 190.94 L260.11 198.17 L260.68 190.84 L261.24 190.78 L261.8 190.74 L262.36 190.23 L262.93 190.59 L263.49 190.15 L264.05 190.11 L264.61 190.11 L265.18 190.06 L265.74 190.43 L266.3 190.34 L266.86 190.13 L267.43 190.47 L267.99 198.67 L268.55 189.78 L269.11 189.49 L269.68 189.48 L270.24 189.75 L270.8 189.81 L271.36 189.74 L271.93 189.36 L272.49 189.27 L273.05 189.39 L273.61 189.56 L274.18 189.86 L274.74 189.88 L275.3 189.39 L275.86 189.48 L276.43 189.54 L276.99 189.75 L277.55 189.79 L278.11 189.75 L278.68 189.79 L279.24 189.43 L279.8 189.65 L280.36 189.46 L280.93 189.56 L281.49 189.47 L282.05 189.32 L282.61 189.29 L283.18 189.77 L283.74 189.16 L284.3 189.24 L284.86 189.26 L285.43 189.54 L285.99 189.17 L286.55 189.27 L287.11 189.7 L287.68 189.36 L288.24 189.24 L288.8 189.32 L289.36 189.2 L289.93 198.67 L290.49 188.62 L291.05 188.58 L291.61 188.73 L292.18 188.59 L292.74 188.72 L293.3 188.57 L293.86 188.53 L294.43 188.66 L294.99 188.73 L295.55 188.74 L296.11 188.62 L296.68 188.71 L297.24 188.57 L297.8 188.6 L298.36 188.63 L298.93 188.58 L299.49 188.71 L300.05 188.64 L300.61 188.74 L301.18 188.61 L301.74 188.55 L302.3 188.71 L302.86 188.58 L303.43 188.5 L303.99 188.67 L304.55 188.7 L305.11 188.69 L305.68 188.54 L306.24 188.73 L306.8 188.56 L307.36 188.69 L307.93 188.56 L308.49 188.53 L309.05 188.54 L309.61 188.7 L310.18 188.61 L310.74 188.67 L311.3 188.53 L311.86 188.68 L312.43 188.71 L312.99 188.65 L313.55 188.73 L314.11 188.7 L314.68 188.58 L315.24 188.67 L315.8 188.71 L316.36 188.52 L316.93 188.69 L317.49 188.55 L318.05 188.58 L318.61 188.61 L319.18 188.59 L319.74 188.61 L320.3 188.54 L320.86 188.58 L321.43 188.68 L321.99 188.59 L322.55 188.62 L323.11 188.52 L323.68 188.72 L324.24 188.64 L324.8 188.51 L325.36 188.74 L325.93 188.57 L326.49 188.53 L327.05 188.6 L327.61 188.74 L328.18 188.56 L328.74 188.69 L329.3 188.62 L329.86 188.55 L330.43 189.63 L330.99 188.67 L331.55 188.69 L332.11 188.72 L332.68 188.67 L333.24 188.73 L333.8 188.58 L334.36 188.54 L334.93 188.74 L335.49 188.62 L336.05 188.55 L336.61 188.56 L337.18 188.69 L337.74 188.62 L338.3 188.58 L338.86 188.62 L339.43 188.5 L339.99 188.52 L340.55 188.51 L341.11 188.72 L341.68 188.75 L342.24 188.6 L342.8 188.61 L343.36 188.69 L343.93 188.69 L344.49 188.55 L345.05 188.55 L345.61 188.75 L346.18 188.72 L346.74 188.57 L347.3 188.65 L347.86 188.71 L348.43 188.51 L348.99 188.67 L349.55 188.73" fill="none" stroke="#ff7f0e" stroke-width="0.27" stroke-linejoin="round"/>
<path d="M215.11 277.3h0M215.68 270.14h0M216.24 266h0M216.8 263.48h0M217.36 262.23h0M217.93 260.97h0M218.49 264.74h0M219.05 269.76h0M219.61 275.42h0M220.18 247.53h0M220.74 239.62h0M221.3 233.34h0M221.86 227.06h0M222.43 225.05h0M222.99 231.71h0M223.55 223.29h0M224.11 218.39h0M224.68 220.78h0M225.24 222.04h0M225.8 223.67h0M226.36 227.06h0M226.93 238.36h0M227.49 218.39h0M228.05 211.99h0M228.61 208.72h0M229.18 206.46h0M229.74 205.71h0M230.3 206.96h0M230.86 209.48h0M231.43 203.2h0M231.99 201.94h0M232.55 201.31h0M233.11 200.68h0M233.68 193.27h0M234.24 200.68h0M234.8 201.94h0M235.36 200.68h0M235.93 201.94h0M236.49 203.2h0M237.05 201.94h0M237.61 204.45h0M238.18 205.08h0M238.74 201.94h0M239.3 199.43h0M239.86 198.17h0M240.43 196.92h0M240.99 195.66h0M241.55 195.03h0M242.11 194.4h0M242.68 194.4h0M243.24 193.78h0M243.8 193.15h0M244.36 191.39h0M244.93 191.89h0M245.49 191.89h0M246.05 191.26h0M246.61 191.89h0M247.18 194.4h0M247.74 191.26h0M248.3 191.26h0M248.86 190.03h0M249.43 190.96h0M249.99 190.28h0M250.55 190.53h0M251.11 197.8h0M251.68 190.07h0M252.24 190.6h0M252.8 190.09h0M253.36 190.85h0M253.93 190.01h0M254.49 190.6h0M255.05 190.83h0M255.61 198.67h0M256.18 190.67h0M256.74 190.38h0M257.3 190.98h0M257.86 190.62h0M258.43 198.17h0M258.99 191h0M259.55 190.94h0M260.11 198.17h0M260.68 190.84h0M261.24 190.78h0M261.8 190.74h0M262.36 190.23h0M262.93 190.59h0M263.49 190.15h0M264.05 190.11h0M264.61 190.11h0M265.18 190.06h0M265.74 190.43h0M266.3 190.34h0M266.86 190.13h0M267.43 190.47h0M267.99 198.67h0M268.55 189.78h0M269.11 189.49h0M269.68 189.48h0M270.24 189.75h0M270.8 189.81h0M271.36 189.74h0M271.93 189.36h0M272.49 189.27h0M273.05 189.39h0M273.61 189.56h0M274.18 189.86h0M274.74 189.88h0M275.3 189.39h0M275.86 189.48h0M276.43 189.54h0M276.99 189.75h0M277.55 189.79h0M278.11 189.75h0M278.68 189.79h0M279.24 189.43h0M279.8 189.65h0M280.36 189.46h0M280.93 189.56h0M281.49 189.47h0M282.05 189.32h0M282.61 189.29h0M283.18 189.77h0M283.74 189.16h0M284.3 189.24h0M284.86 189.26h0M285.43 189.54h0M285.99 189.17h0M286.55 189.27h0M287.11 189.7h0M287.68 189.36h0M288.24 189.24h0M288.8 189.32h0M289.36 189.2h0M289.93 198.67h0M290.49 188.62h0M291.05 188.58h0M291.61 188.73h0M292.18 188.59h0M292.74 188.72h0M293.3 188.57h0M293.86 188.53h0M294.43 188.66h0M294.99 188.73h0M295.55 188.74h0M296.11 188.62h0M296.68 188.71h0M297.24 188.57h0M297.8 188.6h0M298.36 188.63h0M298.93 188.58h0M299.49 188.71h0M300.05 188.64h0M300.61 188.74h0M301.18 188.61h0M301.74 188.55h0M302.3 188.71h0M302.86 188.58h0M303.43 188.5h0M303.99 188.67h0M304.55 188.7h0M305.11 188.69h0M305.68 188.54h0M306.24 188.73h0M306.8 188.56h0M307.36 188.69h0M307.93 188.56h0M308.49 188.53h0M309.05 188.54h0M309.61 188.7h0M310.18 188.61h0M310.74 188.67h0M311.3 188.53h0M311.86 188.68h0M312.43 188.71h0M312.99 188.65h0M313.55 188.73h0M314.11 188.7h0M314.68 188.58h0M315.24 188.67h0M315.8 188.71h0M316.36 188.52h0M316.93 188.69h0M317.49 188.55h0M318.05 188.58h0M318.61 188.61h0M319.18 188.59h0M319.74 188.61h0M320.3 188.54h0M320.86 188.58h0M321.43 188.68h0M321.99 188.59h0M322.55 188.62h0M323.11 188.52h0M323.68 188.72h0M324.24 188.64h0M324.8 188.51h0M325.36 188.74h0M325.93 188.57h0M326.49 188.53h0M327.05 188.6h0M327.61 188.74h0M328.18 188.56h0M328.74 188.69h0M329.3 188.62h0M329.86 188.55h0M330.43 189.63h0M330.99 188.67h0M331.55 188.69h0M332.11 188.72h0M332.68 188.67h0M333.24 188.73h0M333.8 188.58h0M334.36 188.54h0M334.93 188.74h0M335.49 188.62h0M336.05 188.55h0M336.61 188.56h0M337.18 188.69h0M337.74 188.62h0M338.3 188.58h0M338.86 188.62h0M339.43 188.5h0M339.99 188.52h0M340.55 188.51h0M341.11 188.72h0M341.68 188.75h0M342.24 188.6h0M342.8 188.61h0M343.36 188.69h0M343.93 188.69h0M344.49 188.55h0M345.05 188.55h0M345.61 188.75h0M346.18 188.72h0M346.74 188.57h0M347.3 188.65h0M347.86 188.71h0M348.43 188.51h0M348.99 188.67h0M349.55 188.73h0" fill="none" stroke="#ff7f0e" stroke-width="1.8" stroke-linecap="round"/>
<rect x="311.9" y="266.5" width="42.2" height="13.6" rx="0.9" fill="#eaeaf2" fill-opacity="0.8" stroke="#cccccc" stroke-width="0.3"/>
<path d="M313.7 270.35h8.3" stroke="#1f77b4" stroke-width="0.27" fill="none"/>
<circle cx="317.85" cy="270.35" r="0.9" fill="#1f77b4"/>
<text x="325.35" y="271.85" font-size="4.14">Pretrained</text>
<path d="M313.7 276.55h8.3" stroke="#ff7f0e" stroke-width="0.27" fill="none"/>
<circle cx="317.85" cy="276.55" r="0.9" fill="#ff7f0e"/>
<text x="325.35" y="278.05" font-size="4.14">Unpretrained</text>
</g>
<text class="cap" x="279.3" y="312.1" font-size="12.6" text-anchor="middle">(<tspan font-weight="bold">e</tspan>)</text>
<g>
<rect x="398.1" y="172.2" width="147.7" height="109.9" fill="#eaeaf2"/>
<text x="471.95" y="169.2" font-size="4.96" text-anchor="middle">The AP of ReDet Pretrained/Unpretrained on MiniSAR</text>
<text x="394.9" y="279.05" font-size="4.14" text-anchor="end">0.0</text>
<text x="394.9" y="266.53" font-size="4.14" text-anchor="end">0.1</text>
<text x="394.9" y="254.01" font-size="4.14" text-anchor="end">0.2</text>
<text x="394.9" y="241.49" font-size="4.14" text-anchor="end">0.3</text>
<text x="394.9" y="228.97" font-size="4.14" text-anchor="end">0.4</text>
<text x="394.9" y="216.45" font-size="4.14" text-anchor="end">0.5</text>
<text x="394.9" y="203.93" font-size="4.14" text-anchor="end">0.6</text>
<text x="394.9" y="191.41" font-size="4.14" text-anchor="end">0.7</text>
<text x="394.9" y="178.89" font-size="4.14" text-anchor="end">0.8</text>
<text x="404.25" y="288.5" font-size="4.14" text-anchor="middle">0</text>
<text x="415.5" y="288.5" font-size="4.14" text-anchor="middle">20</text>
<text x="426.75" y="288.5" font-size="4.14" text-anchor="middle">40</text>
<text x="438" y="288.5" font-size="4.14" text-anchor="middle">60</text>
<text x="449.25" y="288.5" font-size="4.14" text-anchor="middle">80</text>
<text x="460.5" y="288.5" font-size="4.14" text-anchor="middle">100</text>
<text x="471.75" y="288.5" font-size="4.14" text-anchor="middle">120</text>
<text x="483" y="288.5" font-size="4.14" text-anchor="middle">140</text>
<text x="494.25" y="288.5" font-size="4.14" text-anchor="middle">160</text>
<text x="505.5" y="288.5" font-size="4.14" text-anchor="middle">180</text>
<text x="516.75" y="288.5" font-size="4.14" text-anchor="middle">200</text>
<text x="528" y="288.5" font-size="4.14" text-anchor="middle">220</text>
<text x="539.25" y="288.5" font-size="4.14" text-anchor="middle">240</text>
<text x="471.95" y="294.15" font-size="4.14" text-anchor="middle">epoch</text>
<text transform="translate(385.2 227.15) rotate(-90)" font-size="4.14" text-anchor="middle">AP</text>
<path d="M404.81 252.26 L405.38 202.18 L405.94 193.79 L406.5 188.41 L407.06 182.9 L407.62 181.52 L408.19 180.02 L408.75 179.64 L409.31 179.02 L409.88 178.39 L410.44 178.02 L411 178.52 L411.56 178.45 L412.12 178.13 L412.69 178.74 L413.25 178.74 L413.81 178.28 L414.38 178.53 L414.94 180.9 L415.5 178.69 L416.06 178.64 L416.62 178.73 L417.19 178.93 L417.75 178.35 L418.31 178.02 L418.88 187.89 L419.44 187.93 L420 188.15 L420.56 178.6 L421.12 178.96 L421.69 178.23 L422.25 178.77 L422.81 178.78 L423.38 177.92 L423.94 178.72 L424.5 177.92 L425.06 178.37 L425.62 178.19 L426.19 178.36 L426.75 188.27 L427.31 178.25 L427.88 178.82 L428.44 178.63 L429 178.98 L429.56 179.07 L430.12 178.68 L430.69 179.13 L431.25 178.66 L431.81 178.08 L432.38 177.89 L432.94 188.09 L433.5 188.33 L434.06 178.71 L434.62 188.36 L435.19 178.87 L435.75 178.37 L436.31 178.37 L436.88 179.1 L437.44 178.53 L438 178.61 L438.56 178.65 L439.12 178.97 L439.69 178.65 L440.25 188.33 L440.81 178.28 L441.38 178.33 L441.94 178.36 L442.5 178.63 L443.06 177.95 L443.62 188.13 L444.19 188.25 L444.75 178.68 L445.31 187.72 L445.88 188.29 L446.44 178.19 L447 177.97 L447.56 178.08 L448.12 178.56 L448.69 178.58 L449.25 187.75 L449.81 187.87 L450.38 178.13 L450.94 188.27 L451.5 178.38 L452.06 187.85 L452.62 188.23 L453.19 178.88 L453.75 178.09 L454.31 178.43 L454.88 188.1 L455.44 178.53 L456 188.21 L456.56 188.22 L457.12 179.01 L457.69 188.11 L458.25 178.96 L458.81 187.73 L459.38 177.95 L459.94 178.4 L460.5 179.03 L461.06 178.39 L461.62 178.95 L462.19 178.68 L462.75 178.98 L463.31 178.52 L463.88 188.35 L464.44 178.79 L465 178.85 L465.56 178.56 L466.12 187.71 L466.69 178.42 L467.25 178.16 L467.81 178.24 L468.38 178.48 L468.94 179.06 L469.5 179.07 L470.06 178.97 L470.62 178.5 L471.19 178.72 L471.75 178.48 L472.31 178.76 L472.88 178.78 L473.44 178.59 L474 178.6 L474.56 178.81 L475.12 188.15 L475.69 178.66 L476.25 178.52 L476.81 178.54 L477.38 178.5 L477.94 178.63 L478.5 178.48 L479.06 188.05 L479.62 178.72 L480.19 178.78 L480.75 178.52 L481.31 178.59 L481.88 178.6 L482.44 178.46 L483 178.59 L483.56 178.71 L484.12 178.57 L484.69 178.48 L485.25 178.76 L485.81 178.48 L486.38 178.67 L486.94 188.32 L487.5 178.64 L488.06 178.54 L488.62 178.65 L489.19 178.73 L489.75 178.54 L490.31 178.79 L490.88 178.58 L491.44 178.69 L492 187.95 L492.56 178.64 L493.12 178.72 L493.69 178.75 L494.25 178.52 L494.81 178.66 L495.38 178.72 L495.94 178.61 L496.5 178.54 L497.06 178.8 L497.62 178.66 L498.19 178.77 L498.75 178.54 L499.31 178.81 L499.88 178.52 L500.44 178.62 L501 178.64 L501.56 178.63 L502.12 178.73 L502.69 178.66 L503.25 178.77 L503.81 178.7 L504.38 178.61 L504.94 178.6 L505.5 178.71 L506.06 178.6 L506.62 178.54 L507.19 178.54 L507.75 178.83 L508.31 178.64 L508.88 178.77 L509.44 178.52 L510 178.61 L510.56 188.08 L511.12 178.6 L511.69 178.64 L512.25 178.75 L512.81 178.49 L513.38 178.81 L513.94 178.82 L514.5 178.72 L515.06 178.78 L515.62 178.69 L516.19 178.6 L516.75 178.68 L517.31 178.47 L517.88 178.71 L518.44 178.48 L519 178.46 L519.56 178.62 L520.12 178.53 L520.69 178.8 L521.25 178.48 L521.81 178.66 L522.38 178.7 L522.94 178.48 L523.5 178.68 L524.06 178.8 L524.62 178.82 L525.19 178.53 L525.75 178.76 L526.31 187.93 L526.88 178.8 L527.44 178.52 L528 178.47 L528.56 178.69 L529.12 178.53 L529.69 178.49 L530.25 178.74 L530.81 178.65 L531.38 178.46 L531.94 178.47 L532.5 178.62 L533.06 178.62 L533.62 178.82 L534.19 178.52 L534.75 178.47 L535.31 178.62 L535.88 178.74 L536.44 178.78 L537 178.59 L537.56 178.57 L538.12 178.61 L538.69 178.51 L539.25 178.82" fill="none" stroke="#1f77b4" stroke-width="0.27" stroke-linejoin="round"/>
<path d="M404.81 252.26h0M405.38 202.18h0M405.94 193.79h0M406.5 188.41h0M407.06 182.9h0M407.62 181.52h0M408.19 180.02h0M408.75 179.64h0M409.31 179.02h0M409.88 178.39h0M410.44 178.02h0M411 178.52h0M411.56 178.45h0M412.12 178.13h0M412.69 178.74h0M413.25 178.74h0M413.81 178.28h0M414.38 178.53h0M414.94 180.9h0M415.5 178.69h0M416.06 178.64h0M416.62 178.73h0M417.19 178.93h0M417.75 178.35h0M418.31 178.02h0M418.88 187.89h0M419.44 187.93h0M420 188.15h0M420.56 178.6h0M421.12 178.96h0M421.69 178.23h0M422.25 178.77h0M422.81 178.78h0M423.38 177.92h0M423.94 178.72h0M424.5 177.92h0M425.06 178.37h0M425.62 178.19h0M426.19 178.36h0M426.75 188.27h0M427.31 178.25h0M427.88 178.82h0M428.44 178.63h0M429 178.98h0M429.56 179.07h0M430.12 178.68h0M430.69 179.13h0M431.25 178.66h0M431.81 178.08h0M432.38 177.89h0M432.94 188.09h0M433.5 188.33h0M434.06 178.71h0M434.62 188.36h0M435.19 178.87h0M435.75 178.37h0M436.31 178.37h0M436.88 179.1h0M437.44 178.53h0M438 178.61h0M438.56 178.65h0M439.12 178.97h0M439.69 178.65h0M440.25 188.33h0M440.81 178.28h0M441.38 178.33h0M441.94 178.36h0M442.5 178.63h0M443.06 177.95h0M443.62 188.13h0M444.19 188.25h0M444.75 178.68h0M445.31 187.72h0M445.88 188.29h0M446.44 178.19h0M447 177.97h0M447.56 178.08h0M448.12 178.56h0M448.69 178.58h0M449.25 187.75h0M449.81 187.87h0M450.38 178.13h0M450.94 188.27h0M451.5 178.38h0M452.06 187.85h0M452.62 188.23h0M453.19 178.88h0M453.75 178.09h0M454.31 178.43h0M454.88 188.1h0M455.44 178.53h0M456 188.21h0M456.56 188.22h0M457.12 179.01h0M457.69 188.11h0M458.25 178.96h0M458.81 187.73h0M459.38 177.95h0M459.94 178.4h0M460.5 179.03h0M461.06 178.39h0M461.62 178.95h0M462.19 178.68h0M462.75 178.98h0M463.31 178.52h0M463.88 188.35h0M464.44 178.79h0M465 178.85h0M465.56 178.56h0M466.12 187.71h0M466.69 178.42h0M467.25 178.16h0M467.81 178.24h0M468.38 178.48h0M468.94 179.06h0M469.5 179.07h0M470.06 178.97h0M470.62 178.5h0M471.19 178.72h0M471.75 178.48h0M472.31 178.76h0M472.88 178.78h0M473.44 178.59h0M474 178.6h0M474.56 178.81h0M475.12 188.15h0M475.69 178.66h0M476.25 178.52h0M476.81 178.54h0M477.38 178.5h0M477.94 178.63h0M478.5 178.48h0M479.06 188.05h0M479.62 178.72h0M480.19 178.78h0M480.75 178.52h0M481.31 178.59h0M481.88 178.6h0M482.44 178.46h0M483 178.59h0M483.56 178.71h0M484.12 178.57h0M484.69 178.48h0M485.25 178.76h0M485.81 178.48h0M486.38 178.67h0M486.94 188.32h0M487.5 178.64h0M488.06 178.54h0M488.62 178.65h0M489.19 178.73h0M489.75 178.54h0M490.31 178.79h0M490.88 178.58h0M491.44 178.69h0M492 187.95h0M492.56 178.64h0M493.12 178.72h0M493.69 178.75h0M494.25 178.52h0M494.81 178.66h0M495.38 178.72h0M495.94 178.61h0M496.5 178.54h0M497.06 178.8h0M497.62 178.66h0M498.19 178.77h0M498.75 178.54h0M499.31 178.81h0M499.88 178.52h0M500.44 178.62h0M501 178.64h0M501.56 178.63h0M502.12 178.73h0M502.69 178.66h0M503.25 178.77h0M503.81 178.7h0M504.38 178.61h0M504.94 178.6h0M505.5 178.71h0M506.06 178.6h0M506.62 178.54h0M507.19 178.54h0M507.75 178.83h0M508.31 178.64h0M508.88 178.77h0M509.44 178.52h0M510 178.61h0M510.56 188.08h0M511.12 178.6h0M511.69 178.64h0M512.25 178.75h0M512.81 178.49h0M513.38 178.81h0M513.94 178.82h0M514.5 178.72h0M515.06 178.78h0M515.62 178.69h0M516.19 178.6h0M516.75 178.68h0M517.31 178.47h0M517.88 178.71h0M518.44 178.48h0M519 178.46h0M519.56 178.62h0M520.12 178.53h0M520.69 178.8h0M521.25 178.48h0M521.81 178.66h0M522.38 178.7h0M522.94 178.48h0M523.5 178.68h0M524.06 178.8h0M524.62 178.82h0M525.19 178.53h0M525.75 178.76h0M526.31 187.93h0M526.88 178.8h0M527.44 178.52h0M528 178.47h0M528.56 178.69h0M529.12 178.53h0M529.69 178.49h0M530.25 178.74h0M530.81 178.65h0M531.38 178.46h0M531.94 178.47h0M532.5 178.62h0M533.06 178.62h0M533.62 178.82h0M534.19 178.52h0M534.75 178.47h0M535.31 178.62h0M535.88 178.74h0M536.44 178.78h0M537 178.59h0M537.56 178.57h0M538.12 178.61h0M538.69 178.51h0M539.25 178.82h0" fill="none" stroke="#1f77b4" stroke-width="1.8" stroke-linecap="round"/>
<path d="M404.81 276.67 L405.38 271.92 L405.94 269.29 L406.5 264.03 L407.06 264.78 L407.62 263.53 L408.19 257.27 L408.75 249.13 L409.31 247.25 L409.88 245.12 L410.44 240.99 L411 238.49 L411.56 235.98 L412.12 241.24 L412.69 232.23 L413.25 226.72 L413.81 239.74 L414.38 215.7 L414.94 210.94 L415.5 209.07 L416.06 210.19 L416.62 205.69 L417.19 202.18 L417.75 202.56 L418.31 203.06 L418.88 205.31 L419.44 202.18 L420 202.18 L420.56 208.44 L421.12 208.44 L421.69 190.91 L422.25 202.18 L422.81 204.68 L423.38 204.68 L423.94 198.42 L424.5 193.42 L425.06 196.55 L425.62 203.81 L426.19 195.92 L426.75 203.43 L427.31 194.67 L427.88 194.04 L428.44 194.67 L429 193.42 L429.56 199.3 L430.12 193.04 L430.69 200.3 L431.25 192.79 L431.81 192.16 L432.38 192.16 L432.94 191.13 L433.5 192.07 L434.06 191.07 L434.62 191.99 L435.19 201.18 L435.75 191.71 L436.31 191.17 L436.88 191.84 L437.44 191.65 L438 192.09 L438.56 191.09 L439.12 191.06 L439.69 192.07 L440.25 192.14 L440.81 191.7 L441.38 199.3 L441.94 200.3 L442.5 191.64 L443.06 191.32 L443.62 189.98 L444.19 189.67 L444.75 190.21 L445.31 190.15 L445.88 190.31 L446.44 189.73 L447 189.71 L447.56 189.64 L448.12 189.24 L448.69 190.03 L449.25 189.98 L449.81 189.83 L450.38 189.23 L450.94 190.03 L451.5 190.05 L452.06 189.88 L452.62 189.55 L453.19 198.8 L453.75 198.92 L454.31 198.42 L454.88 190.06 L455.44 190.19 L456 189.5 L456.56 189.69 L457.12 189.69 L457.69 190.39 L458.25 190.1 L458.81 190.28 L459.38 189.95 L459.94 200.55 L460.5 189.28 L461.06 189.17 L461.62 189.35 L462.19 189.95 L462.75 183.4 L463.31 182.15 L463.88 189.7 L464.44 189.29 L465 189.98 L465.56 177.52 L466.12 189.91 L466.69 189.52 L467.25 189.98 L467.81 189.82 L468.38 189.96 L468.94 189.38 L469.5 189.76 L470.06 190.29 L470.62 190.39 L471.19 189.61 L471.75 189.15 L472.31 188.8 L472.88 189.08 L473.44 188.89 L474 189.01 L474.56 188.81 L475.12 189.14 L475.69 188.97 L476.25 188.81 L476.81 189.06 L477.38 188.6 L477.94 188.6 L478.5 188.62 L479.06 188.64 L479.62 188.63 L480.19 188.86 L480.75 188.7 L481.31 188.97 L481.88 189.18 L482.44 188.64 L483 188.65 L483.56 189.06 L484.12 188.99 L484.69 189.08 L485.25 188.78 L485.81 189.12 L486.38 188.71 L486.94 179.64 L487.5 189.2 L488.06 188.97 L488.62 188.73 L489.19 188.92 L489.75 189.14 L490.31 189.2 L490.88 188.8 L491.44 189.17 L492 189.05 L492.56 188.84 L493.12 189.03 L493.69 189.2 L494.25 188.72 L494.81 188.77 L495.38 188.84 L495.94 189.16 L496.5 188.92 L497.06 188.62 L497.62 188.9 L498.19 189.06 L498.75 188.64 L499.31 189 L499.88 188.89 L500.44 189.12 L501 188.68 L501.56 188.79 L502.12 188.89 L502.69 188.91 L503.25 189.01 L503.81 188.93 L504.38 188.9 L504.94 189.21 L505.5 188.78 L506.06 188.75 L506.62 189.2 L507.19 189.14 L507.75 188.78 L508.31 189.01 L508.88 189.13 L509.44 188.78 L510 188.61 L510.56 189 L511.12 188.85 L511.69 188.88 L512.25 188.87 L512.81 188.85 L513.38 188.65 L513.94 188.68 L514.5 188.67 L515.06 188.79 L515.62 188.75 L516.19 188.75 L516.75 188.76 L517.31 188.79 L517.88 188.75 L518.44 189.19 L519 189.12 L519.56 188.81 L520.12 188.96 L520.69 189.08 L521.25 188.82 L521.81 189.1 L522.38 188.75 L522.94 189.02 L523.5 188.65 L524.06 189.02 L524.62 188.62 L525.19 189.02 L525.75 188.73 L526.31 189.14 L526.88 188.91 L527.44 189 L528 188.68 L528.56 188.78 L529.12 188.86 L529.69 189.15 L530.25 188.89 L530.81 189.07 L531.38 189.16 L531.94 188.78 L532.5 188.88 L533.06 188.6 L533.62 188.69 L534.19 189.19 L534.75 188.63 L535.31 188.89 L535.88 188.6 L536.44 189.03 L537 188.93 L537.56 188.79 L538.12 189.06 L538.69 188.97 L539.25 189.01" fill="none" stroke="#ff7f0e" stroke-width="0.27" stroke-linejoin="round"/>
<path d="M404.81 276.67h0M405.38 271.92h0M405.94 269.29h0M406.5 264.03h0M407.06 264.78h0M407.62 263.53h0M408.19 257.27h0M408.75 249.13h0M409.31 247.25h0M409.88 245.12h0M410.44 240.99h0M411 238.49h0M411.56 235.98h0M412.12 241.24h0M412.69 232.23h0M413.25 226.72h0M413.81 239.74h0M414.38 215.7h0M414.94 210.94h0M415.5 209.07h0M416.06 210.19h0M416.62 205.69h0M417.19 202.18h0M417.75 202.56h0M418.31 203.06h0M418.88 205.31h0M419.44 202.18h0M420 202.18h0M420.56 208.44h0M421.12 208.44h0M421.69 190.91h0M422.25 202.18h0M422.81 204.68h0M423.38 204.68h0M423.94 198.42h0M424.5 193.42h0M425.06 196.55h0M425.62 203.81h0M426.19 195.92h0M426.75 203.43h0M427.31 194.67h0M427.88 194.04h0M428.44 194.67h0M429 193.42h0M429.56 199.3h0M430.12 193.04h0M430.69 200.3h0M431.25 192.79h0M431.81 192.16h0M432.38 192.16h0M432.94 191.13h0M433.5 192.07h0M434.06 191.07h0M434.62 191.99h0M435.19 201.18h0M435.75 191.71h0M436.31 191.17h0M436.88 191.84h0M437.44 191.65h0M438 192.09h0M438.56 191.09h0M439.12 191.06h0M439.69 192.07h0M440.25 192.14h0M440.81 191.7h0M441.38 199.3h0M441.94 200.3h0M442.5 191.64h0M443.06 191.32h0M443.62 189.98h0M444.19 189.67h0M444.75 190.21h0M445.31 190.15h0M445.88 190.31h0M446.44 189.73h0M447 189.71h0M447.56 189.64h0M448.12 189.24h0M448.69 190.03h0M449.25 189.98h0M449.81 189.83h0M450.38 189.23h0M450.94 190.03h0M451.5 190.05h0M452.06 189.88h0M452.62 189.55h0M453.19 198.8h0M453.75 198.92h0M454.31 198.42h0M454.88 190.06h0M455.44 190.19h0M456 189.5h0M456.56 189.69h0M457.12 189.69h0M457.69 190.39h0M458.25 190.1h0M458.81 190.28h0M459.38 189.95h0M459.94 200.55h0M460.5 189.28h0M461.06 189.17h0M461.62 189.35h0M462.19 189.95h0M462.75 183.4h0M463.31 182.15h0M463.88 189.7h0M464.44 189.29h0M465 189.98h0M465.56 177.52h0M466.12 189.91h0M466.69 189.52h0M467.25 189.98h0M467.81 189.82h0M468.38 189.96h0M468.94 189.38h0M469.5 189.76h0M470.06 190.29h0M470.62 190.39h0M471.19 189.61h0M471.75 189.15h0M472.31 188.8h0M472.88 189.08h0M473.44 188.89h0M474 189.01h0M474.56 188.81h0M475.12 189.14h0M475.69 188.97h0M476.25 188.81h0M476.81 189.06h0M477.38 188.6h0M477.94 188.6h0M478.5 188.62h0M479.06 188.64h0M479.62 188.63h0M480.19 188.86h0M480.75 188.7h0M481.31 188.97h0M481.88 189.18h0M482.44 188.64h0M483 188.65h0M483.56 189.06h0M484.12 188.99h0M484.69 189.08h0M485.25 188.78h0M485.81 189.12h0M486.38 188.71h0M486.94 179.64h0M487.5 189.2h0M488.06 188.97h0M488.62 188.73h0M489.19 188.92h0M489.75 189.14h0M490.31 189.2h0M490.88 188.8h0M491.44 189.17h0M492 189.05h0M492.56 188.84h0M493.12 189.03h0M493.69 189.2h0M494.25 188.72h0M494.81 188.77h0M495.38 188.84h0M495.94 189.16h0M496.5 188.92h0M497.06 188.62h0M497.62 188.9h0M498.19 189.06h0M498.75 188.64h0M499.31 189h0M499.88 188.89h0M500.44 189.12h0M501 188.68h0M501.56 188.79h0M502.12 188.89h0M502.69 188.91h0M503.25 189.01h0M503.81 188.93h0M504.38 188.9h0M504.94 189.21h0M505.5 188.78h0M506.06 188.75h0M506.62 189.2h0M507.19 189.14h0M507.75 188.78h0M508.31 189.01h0M508.88 189.13h0M509.44 188.78h0M510 188.61h0M510.56 189h0M511.12 188.85h0M511.69 188.88h0M512.25 188.87h0M512.81 188.85h0M513.38 188.65h0M513.94 188.68h0M514.5 188.67h0M515.06 188.79h0M515.62 188.75h0M516.19 188.75h0M516.75 188.76h0M517.31 188.79h0M517.88 188.75h0M518.44 189.19h0M519 189.12h0M519.56 188.81h0M520.12 188.96h0M520.69 189.08h0M521.25 188.82h0M521.81 189.1h0M522.38 188.75h0M522.94 189.02h0M523.5 188.65h0M524.06 189.02h0M524.62 188.62h0M525.19 189.02h0M525.75 188.73h0M526.31 189.14h0M526.88 188.91h0M527.44 189h0M528 188.68h0M528.56 188.78h0M529.12 188.86h0M529.69 189.15h0M530.25 188.89h0M530.81 189.07h0M531.38 189.16h0M531.94 188.78h0M532.5 188.88h0M533.06 188.6h0M533.62 188.69h0M534.19 189.19h0M534.75 188.63h0M535.31 188.89h0M535.88 188.6h0M536.44 189.03h0M537 188.93h0M537.56 188.79h0M538.12 189.06h0M538.69 188.97h0M539.25 189.01h0" fill="none" stroke="#ff7f0e" stroke-width="1.8" stroke-linecap="round"/>
<rect x="501.6" y="266.5" width="42.2" height="13.6" rx="0.9" fill="#eaeaf2" fill-opacity="0.8" stroke="#cccccc" stroke-width="0.3"/>
<path d="M503.4 270.35h8.3" stroke="#1f77b4" stroke-width="0.27" fill="none"/>
<circle cx="507.55" cy="270.35" r="0.9" fill="#1f77b4"/>
<text x="515.05" y="271.85" font-size="4.14">Pretrained</text>
<path d="M503.4 276.55h8.3" stroke="#ff7f0e" stroke-width="0.27" fill="none"/>
<circle cx="507.55" cy="276.55" r="0.9" fill="#ff7f0e"/>
<text x="515.05" y="278.05" font-size="4.14">Unpretrained</text>
</g>
<text class="cap" x="469" y="312.1" font-size="12.6" text-anchor="middle">(<tspan font-weight="bold">f</tspan>)</text>
</g>
</svg>
</body>
</html>
